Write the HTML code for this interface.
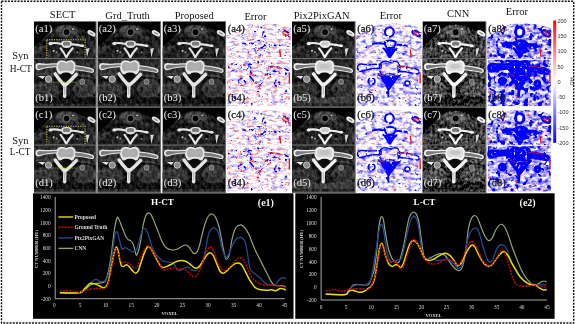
<!DOCTYPE html>
<html><head><meta charset="utf-8"><title>Synthetic CT comparison</title>
<style>
html,body{margin:0;padding:0;background:#fff;width:575px;height:324px;overflow:hidden}
svg{display:block}
svg{font-family:"Liberation Serif","Times New Roman",serif}
</style></head><body>
<svg width="575" height="324" viewBox="0 0 575 324">
<rect width="575" height="324" fill="#fff"/>

<defs>
<linearGradient id="cbar" x1="0" y1="0" x2="0" y2="1">
<stop offset="0" stop-color="#ff0000"/><stop offset="0.5" stop-color="#ffffff"/><stop offset="1" stop-color="#0000ff"/>
</linearGradient>
</defs>
<rect x="1.5" y="1.3" width="572.2" height="321.7" fill="none" stroke="#111" stroke-width="1.4" stroke-dasharray="2 1.2"/>
<text x="62.7" y="18.4" font-size="10.5" text-anchor="middle" fill="#111">SECT</text>
<text x="127.6" y="18.6" font-size="10.5" text-anchor="middle" fill="#111">Grd_Truth</text>
<text x="194.2" y="18.6" font-size="10.5" text-anchor="middle" fill="#111">Proposed</text>
<text x="255.5" y="19.6" font-size="10.5" text-anchor="middle" fill="#111">Error</text>
<text x="321.7" y="18.7" font-size="10.5" text-anchor="middle" fill="#111">Pix2PixGAN</text>
<text x="390.8" y="18.7" font-size="10.5" text-anchor="middle" fill="#111">Error</text>
<text x="458.2" y="17.1" font-size="10.5" text-anchor="middle" fill="#111">CNN</text>
<text x="516.8" y="15.4" font-size="10.5" text-anchor="middle" fill="#111">Error</text>
<text x="20.4" y="59.2" font-size="10.5" text-anchor="middle" fill="#111">Syn</text>
<text x="20.7" y="71.5" font-size="10.5" text-anchor="middle" fill="#111" textLength="22" lengthAdjust="spacingAndGlyphs">H-CT</text>
<text x="20.4" y="143.5" font-size="10.5" text-anchor="middle" fill="#111">Syn</text>
<text x="20.1" y="155.3" font-size="10.5" text-anchor="middle" fill="#111" textLength="20.8" lengthAdjust="spacingAndGlyphs">L-CT</text>

<filter id="grain1" x="0" y="0" width="1" height="1" color-interpolation-filters="sRGB">
<feTurbulence type="fractalNoise" baseFrequency="0.35 0.25" numOctaves="3" seed="3" result="t"/>
<feColorMatrix in="t" type="matrix" values="1 0 0 0 0 1 0 0 0 0 1 0 0 0 0 0 0 0 0 1" result="g"/>
<feComposite in="SourceGraphic" in2="g" operator="arithmetic" k1="0" k2="1" k3="0.4" k4="-0.2" result="c"/>
<feComposite in="c" in2="SourceGraphic" operator="in"/>
</filter>
<filter id="grain2" x="0" y="0" width="1" height="1" color-interpolation-filters="sRGB">
<feTurbulence type="fractalNoise" baseFrequency="0.4 0.3" numOctaves="3" seed="8" result="t"/>
<feColorMatrix in="t" type="matrix" values="1 0 0 0 0 1 0 0 0 0 1 0 0 0 0 0 0 0 0 1" result="g"/>
<feComposite in="SourceGraphic" in2="g" operator="arithmetic" k1="0" k2="1" k3="0.9" k4="-0.45" result="c"/>
<feComposite in="c" in2="SourceGraphic" operator="in"/>
</filter>
<filter id="epale" x="0" y="0" width="1" height="1" color-interpolation-filters="sRGB">
<feTurbulence type="fractalNoise" baseFrequency="0.4" numOctaves="2" seed="5" result="t"/>
<feColorMatrix in="t" type="matrix" values="1.5 0 0 0 0.25  1.5 0 0 0 0.25  0 0 0 0 1  0 0 0 0 1" result="bl"/>
<feColorMatrix in="t" type="matrix" values="0 0 0 0 1  0 -1.5 0 0 1.75  0 -1.5 0 0 1.75  0 0 0 0 1" result="rd"/>
<feBlend in="bl" in2="rd" mode="multiply" result="m"/>
<feComposite in="m" in2="SourceGraphic" operator="in"/>
</filter>
<filter id="epale2" x="0" y="0" width="1" height="1" color-interpolation-filters="sRGB">
<feTurbulence type="fractalNoise" baseFrequency="0.35" numOctaves="2" seed="9" result="t"/>
<feColorMatrix in="t" type="matrix" values="1.5 0 0 0 0.25  1.5 0 0 0 0.25  0 0 0 0 1  0 0 0 0 1" result="bl"/>
<feColorMatrix in="t" type="matrix" values="0 0 0 0 1  0 -1.5 0 0 1.75  0 -1.5 0 0 1.75  0 0 0 0 1" result="rd"/>
<feBlend in="bl" in2="rd" mode="multiply" result="m"/>
<feComposite in="m" in2="SourceGraphic" operator="in"/>
</filter>

<filter id="p4" x="0" y="0" width="1" height="1" color-interpolation-filters="sRGB">
<feTurbulence type="fractalNoise" baseFrequency="0.2 0.4" numOctaves="2" seed="5" result="t"/>
<feColorMatrix in="t" type="matrix" values="1.2 0 0 0 0.4  1.2 0 0 0 0.4  0 0 0 0 1  0 0 0 0 1" result="bl"/>
<feColorMatrix in="t" type="matrix" values="0 0 0 0 1  0 -1.4 0 0 1.7  0 -1.4 0 0 1.7  0 0 0 0 1" result="rd"/>
<feBlend in="bl" in2="rd" mode="multiply" result="m"/>
<feComposite in="m" in2="SourceGraphic" operator="in"/>
</filter>
<filter id="pz4" x="0" y="0" width="1" height="1" color-interpolation-filters="sRGB">
<feTurbulence type="fractalNoise" baseFrequency="0.18 0.36" numOctaves="2" seed="9" result="t"/>
<feColorMatrix in="t" type="matrix" values="1.2 0 0 0 0.4  1.2 0 0 0 0.4  0 0 0 0 1  0 0 0 0 1" result="bl"/>
<feColorMatrix in="t" type="matrix" values="0 0 0 0 1  0 -1.4 0 0 1.7  0 -1.4 0 0 1.7  0 0 0 0 1" result="rd"/>
<feBlend in="bl" in2="rd" mode="multiply" result="m"/>
<feComposite in="m" in2="SourceGraphic" operator="in"/>
</filter>
<filter id="p6" x="0" y="0" width="1" height="1" color-interpolation-filters="sRGB">
<feTurbulence type="fractalNoise" baseFrequency="0.2 0.3" numOctaves="2" seed="6" result="t"/>
<feColorMatrix in="t" type="matrix" values="1.9 0 0 0 -0.019999999999999962  1.9 0 0 0 -0.019999999999999962  0 0 0 0 1  0 0 0 0 1" result="bl"/>
<feColorMatrix in="t" type="matrix" values="0 0 0 0 1  0 -0.9 0 0 1.45  0 -0.9 0 0 1.45  0 0 0 0 1" result="rd"/>
<feBlend in="bl" in2="rd" mode="multiply" result="m"/>
<feComposite in="m" in2="SourceGraphic" operator="in"/>
</filter>
<filter id="pz6" x="0" y="0" width="1" height="1" color-interpolation-filters="sRGB">
<feTurbulence type="fractalNoise" baseFrequency="0.18 0.28" numOctaves="2" seed="8" result="t"/>
<feColorMatrix in="t" type="matrix" values="1.9 0 0 0 -0.03999999999999995  1.9 0 0 0 -0.03999999999999995  0 0 0 0 1  0 0 0 0 1" result="bl"/>
<feColorMatrix in="t" type="matrix" values="0 0 0 0 1  0 -0.8 0 0 1.4  0 -0.8 0 0 1.4  0 0 0 0 1" result="rd"/>
<feBlend in="bl" in2="rd" mode="multiply" result="m"/>
<feComposite in="m" in2="SourceGraphic" operator="in"/>
</filter>
<filter id="p8" x="0" y="0" width="1" height="1" color-interpolation-filters="sRGB">
<feTurbulence type="fractalNoise" baseFrequency="0.2 0.3" numOctaves="2" seed="7" result="t"/>
<feColorMatrix in="t" type="matrix" values="1.8 0 0 0 -0.14  1.8 0 0 0 -0.14  0 0 0 0 1  0 0 0 0 1" result="bl"/>
<feColorMatrix in="t" type="matrix" values="0 0 0 0 1  0 -0.8 0 0 1.4  0 -0.8 0 0 1.4  0 0 0 0 1" result="rd"/>
<feBlend in="bl" in2="rd" mode="multiply" result="m"/>
<feComposite in="m" in2="SourceGraphic" operator="in"/>
</filter>
<filter id="pz8" x="0" y="0" width="1" height="1" color-interpolation-filters="sRGB">
<feTurbulence type="fractalNoise" baseFrequency="0.18 0.28" numOctaves="2" seed="10" result="t"/>
<feColorMatrix in="t" type="matrix" values="1.8 0 0 0 -0.14  1.8 0 0 0 -0.14  0 0 0 0 1  0 0 0 0 1" result="bl"/>
<feColorMatrix in="t" type="matrix" values="0 0 0 0 1  0 -0.8 0 0 1.4  0 -0.8 0 0 1.4  0 0 0 0 1" result="rd"/>
<feBlend in="bl" in2="rd" mode="multiply" result="m"/>
<feComposite in="m" in2="SourceGraphic" operator="in"/>
</filter>
<filter id="b4" x="-0.1" y="-0.1" width="1.2" height="1.2" color-interpolation-filters="sRGB">
<feTurbulence type="fractalNoise" baseFrequency="0.3" numOctaves="2" seed="11" result="t"/>
<feColorMatrix in="t" type="matrix" values="0 0 0 0 0  0 0 0 0 0  0 0 0 0 1  8 0 0 0 -5.68"/>
<feComposite in2="SourceGraphic" operator="in"/>
</filter>
<filter id="r4" x="-0.1" y="-0.1" width="1.2" height="1.2" color-interpolation-filters="sRGB">
<feTurbulence type="fractalNoise" baseFrequency="0.3" numOctaves="2" seed="12" result="t"/>
<feColorMatrix in="t" type="matrix" values="0 0 0 0 1  0 0 0 0 0.1  0 0 0 0 0.1  8 0 0 0 -6.0"/>
<feComposite in2="SourceGraphic" operator="in"/>
</filter>
<filter id="a4" x="-0.1" y="-0.1" width="1.2" height="1.2" color-interpolation-filters="sRGB">
<feTurbulence type="fractalNoise" baseFrequency="0.3" numOctaves="2" seed="14" result="t"/>
<feColorMatrix in="t" type="matrix" values="0 0 0 0 0  0 0 0 0 0  0 0 0 0 1  8 0 0 0 -4.0"/>
<feComposite in2="SourceGraphic" operator="in"/>
</filter>
<filter id="ra4" x="-0.1" y="-0.1" width="1.2" height="1.2" color-interpolation-filters="sRGB">
<feTurbulence type="fractalNoise" baseFrequency="0.3" numOctaves="2" seed="15" result="t"/>
<feColorMatrix in="t" type="matrix" values="0 0 0 0 1  0 0 0 0 0.1  0 0 0 0 0.1  8 0 0 0 -4.96"/>
<feComposite in2="SourceGraphic" operator="in"/>
</filter>
<filter id="b6" x="-0.1" y="-0.1" width="1.2" height="1.2" color-interpolation-filters="sRGB">
<feTurbulence type="fractalNoise" baseFrequency="0.25" numOctaves="2" seed="21" result="t"/>
<feColorMatrix in="t" type="matrix" values="0 0 0 0 0  0 0 0 0 0  0 0 0 0 1  8 0 0 0 -5.6"/>
<feComposite in2="SourceGraphic" operator="in"/>
</filter>
<filter id="r6" x="-0.1" y="-0.1" width="1.2" height="1.2" color-interpolation-filters="sRGB">
<feTurbulence type="fractalNoise" baseFrequency="0.3" numOctaves="2" seed="22" result="t"/>
<feColorMatrix in="t" type="matrix" values="0 0 0 0 1  0 0 0 0 0.1  0 0 0 0 0.1  8 0 0 0 -6.24"/>
<feComposite in2="SourceGraphic" operator="in"/>
</filter>
<filter id="a6" x="-0.1" y="-0.1" width="1.2" height="1.2" color-interpolation-filters="sRGB">
<feTurbulence type="fractalNoise" baseFrequency="0.3" numOctaves="2" seed="24" result="t"/>
<feColorMatrix in="t" type="matrix" values="0 0 0 0 0  0 0 0 0 0  0 0 0 0 1  8 0 0 0 -2.4"/>
<feComposite in2="SourceGraphic" operator="in"/>
</filter>
<filter id="f6" x="-0.1" y="-0.1" width="1.2" height="1.2" color-interpolation-filters="sRGB">
<feTurbulence type="fractalNoise" baseFrequency="0.3" numOctaves="2" seed="25" result="t"/>
<feColorMatrix in="t" type="matrix" values="0 0 0 0 0  0 0 0 0 0  0 0 0 0 1  8 0 0 0 -1.76"/>
<feComposite in2="SourceGraphic" operator="in"/>
</filter>
<filter id="b8" x="-0.1" y="-0.1" width="1.2" height="1.2" color-interpolation-filters="sRGB">
<feTurbulence type="fractalNoise" baseFrequency="0.22" numOctaves="2" seed="31" result="t"/>
<feColorMatrix in="t" type="matrix" values="0 0 0 0 0  0 0 0 0 0  0 0 0 0 1  8 0 0 0 -4.32"/>
<feComposite in2="SourceGraphic" operator="in"/>
</filter>
<filter id="r8" x="-0.1" y="-0.1" width="1.2" height="1.2" color-interpolation-filters="sRGB">
<feTurbulence type="fractalNoise" baseFrequency="0.35" numOctaves="2" seed="32" result="t"/>
<feColorMatrix in="t" type="matrix" values="0 0 0 0 1  0 0 0 0 0.1  0 0 0 0 0.1  8 0 0 0 -5.76"/>
<feComposite in2="SourceGraphic" operator="in"/>
</filter>
<filter id="a8" x="-0.1" y="-0.1" width="1.2" height="1.2" color-interpolation-filters="sRGB">
<feTurbulence type="fractalNoise" baseFrequency="0.3" numOctaves="2" seed="34" result="t"/>
<feColorMatrix in="t" type="matrix" values="0 0 0 0 0  0 0 0 0 0  0 0 0 0 1  8 0 0 0 -1.6"/>
<feComposite in2="SourceGraphic" operator="in"/>
</filter>
<filter id="f8" x="-0.1" y="-0.1" width="1.2" height="1.2" color-interpolation-filters="sRGB">
<feTurbulence type="fractalNoise" baseFrequency="0.3" numOctaves="2" seed="35" result="t"/>
<feColorMatrix in="t" type="matrix" values="0 0 0 0 0  0 0 0 0 0  0 0 0 0 1  8 0 0 0 -2.4"/>
<feComposite in2="SourceGraphic" operator="in"/>
</filter>
<filter id="bz4" x="-0.1" y="-0.1" width="1.2" height="1.2" color-interpolation-filters="sRGB">
<feTurbulence type="fractalNoise" baseFrequency="0.3" numOctaves="2" seed="13" result="t"/>
<feColorMatrix in="t" type="matrix" values="0 0 0 0 0  0 0 0 0 0  0 0 0 0 1  8 0 0 0 -5.68"/>
<feComposite in2="SourceGraphic" operator="in"/>
</filter>
<filter id="bz6" x="-0.1" y="-0.1" width="1.2" height="1.2" color-interpolation-filters="sRGB">
<feTurbulence type="fractalNoise" baseFrequency="0.25" numOctaves="2" seed="23" result="t"/>
<feColorMatrix in="t" type="matrix" values="0 0 0 0 0  0 0 0 0 0  0 0 0 0 1  8 0 0 0 -5.44"/>
<feComposite in2="SourceGraphic" operator="in"/>
</filter>
<filter id="bz8" x="-0.1" y="-0.1" width="1.2" height="1.2" color-interpolation-filters="sRGB">
<feTurbulence type="fractalNoise" baseFrequency="0.22" numOctaves="2" seed="33" result="t"/>
<feColorMatrix in="t" type="matrix" values="0 0 0 0 0  0 0 0 0 0  0 0 0 0 1  8 0 0 0 -4.0"/>
<feComposite in2="SourceGraphic" operator="in"/>
</filter>
<filter id="bzd8" x="-0.1" y="-0.1" width="1.2" height="1.2" color-interpolation-filters="sRGB">
<feTurbulence type="fractalNoise" baseFrequency="0.22" numOctaves="2" seed="36" result="t"/>
<feColorMatrix in="t" type="matrix" values="0 0 0 0 0  0 0 0 0 0  0 0 0 0 1  8 0 0 0 -4.48"/>
<feComposite in2="SourceGraphic" operator="in"/>
</filter>
<svg x="34" y="21.3" width="62.5" height="37.7" viewBox="0 0 63 37.5" preserveAspectRatio="none" overflow="hidden">
<rect width="63" height="37.5" fill="#030303"/>
<g filter="url(#grain1)">
<path d="M0,25.5 C3,22.5 6,19.5 8.5,17.5 C11,15.5 13.5,12.5 15,10.5 C17,7.5 20.5,5 26,3.7 C29.5,2.9 36,2.8 40.5,4 C45,5.3 49.5,8 53,10 C56.5,12 60.5,14 63,15.5 L63,37.5 L0,37.5 Z" fill="#1c1c1c"/>
<path d="M0,29 L8,24 L12.5,25 L4,32 L0,34Z" fill="#363636"/>
<ellipse cx="32.5" cy="10" rx="11" ry="6.5" fill="#363636"/>
<ellipse cx="26.5" cy="8" rx="4" ry="3" fill="#4a4a4a"/>
<ellipse cx="40" cy="9.5" rx="4" ry="3.2" fill="#4a4a4a"/>
<ellipse cx="46.5" cy="17" rx="5" ry="3" fill="#363636" opacity="0.8"/>
<ellipse cx="20" cy="34" rx="6" ry="3" fill="#363636" opacity="0.7"/>
<ellipse cx="45" cy="33.5" rx="6" ry="3.5" fill="#363636" opacity="0.7"/>
<ellipse cx="59" cy="28" rx="4" ry="9" fill="#363636" opacity="0.6"/>
<ellipse cx="6" cy="32" rx="6" ry="4" fill="#363636" opacity="0.5"/>
</g>
<circle cx="32.8" cy="10.8" r="4" fill="#6a6a6a"/>
<circle cx="32.8" cy="10.8" r="2.8" fill="#000"/>
<circle cx="39.2" cy="7.8" r="0.8" fill="#ddd"/>
<ellipse cx="58" cy="12" rx="4.6" ry="2.3" transform="rotate(30 58 12)" fill="#e4e4e4"/>
<ellipse cx="58" cy="12" rx="2.4" ry="0.8" transform="rotate(30 58 12)" fill="#8a8a8a"/>
<ellipse cx="32.8" cy="27.4" rx="3.4" ry="2" fill="#0a0a0a"/>
<path d="M27.5,22 C27.3,19.9 30,19.2 32.8,19.2 C35.6,19.2 38.3,19.9 38.1,22 C37.9,24.8 35.9,26.6 32.8,26.6 C29.7,26.6 27.7,24.8 27.5,22Z" fill="#e4e4e4"/>
<ellipse cx="32.8" cy="22.4" rx="3.7" ry="2.3" fill="#7a7a7a"/>
<path d="M30,25.4 Q32.8,23 35.6,25.4" stroke="#e4e4e4" stroke-width="0.9" fill="none"/>
<path d="M16.2,22 C19.5,21.2 24,21.6 27.8,22.6" stroke="#e4e4e4" stroke-width="2.1" fill="none" stroke-linecap="round"/>
<ellipse cx="16.6" cy="22.2" rx="2" ry="1.5" fill="#e4e4e4"/>
<path d="M37.8,23 C41.5,22.8 45.5,23.5 49,24.6" stroke="#e4e4e4" stroke-width="2.1" fill="none" stroke-linecap="round"/>
<ellipse cx="48.8" cy="24.4" rx="1.9" ry="1.3" fill="#e4e4e4"/>
<path d="M26.8,27 C28.8,29.5 31,32.5 32.3,35.5 M39,26.8 C36.6,29.5 34,32.5 32.9,35.5" stroke="#e4e4e4" stroke-width="2.1" fill="none" stroke-linecap="round"/>
<path d="M32.6,34.5 L32.6,37.6" stroke="#e4e4e4" stroke-width="1.4"/>
<circle cx="19.8" cy="29.4" r="1.1" fill="#c4c4c4"/>
<circle cx="22.8" cy="30.8" r="1.1" fill="#8a8a8a"/>
<circle cx="43.8" cy="30.8" r="0.9" fill="#8a8a8a"/>
<path d="M52.4,27.2 L56,26.6 L53.4,36Z" fill="#d8d8d8"/>
<rect x="12.9" y="18.4" width="38.6" height="18.6" fill="none" stroke="#1a1a50" stroke-width="1.1"/>
<rect x="12.9" y="18.4" width="38.6" height="18.6" fill="none" stroke="#e8dc00" stroke-width="1.1" stroke-dasharray="1.1 1.3"/>
</svg>
<path d="M96.1,21.3V59" fill="none" stroke="#8a8a8a" stroke-width="0.8"/>
<path d="M34,58.45H96.5" fill="none" stroke="#6a6a6a" stroke-width="1.1"/>
<text x="35.2" y="31.7" font-size="10.6" fill="#eee">(a1)</text>
<svg x="97.5" y="21.3" width="63.5" height="37.7" viewBox="0 0 63 37.5" preserveAspectRatio="none" overflow="hidden">
<rect width="63" height="37.5" fill="#030303"/>
<g filter="url(#grain1)">
<path d="M0,25.5 C3,22.5 6,19.5 8.5,17.5 C11,15.5 13.5,12.5 15,10.5 C17,7.5 20.5,5 26,3.7 C29.5,2.9 36,2.8 40.5,4 C45,5.3 49.5,8 53,10 C56.5,12 60.5,14 63,15.5 L63,37.5 L0,37.5 Z" fill="#1a1a1a"/>
<path d="M0,29 L8,24 L12.5,25 L4,32 L0,34Z" fill="#333333"/>
<ellipse cx="32.5" cy="10" rx="11" ry="6.5" fill="#333333"/>
<ellipse cx="26.5" cy="8" rx="4" ry="3" fill="#4a4a4a"/>
<ellipse cx="40" cy="9.5" rx="4" ry="3.2" fill="#4a4a4a"/>
<ellipse cx="46.5" cy="17" rx="5" ry="3" fill="#333333" opacity="0.8"/>
<ellipse cx="20" cy="34" rx="6" ry="3" fill="#333333" opacity="0.7"/>
<ellipse cx="45" cy="33.5" rx="6" ry="3.5" fill="#333333" opacity="0.7"/>
<ellipse cx="59" cy="28" rx="4" ry="9" fill="#333333" opacity="0.6"/>
<ellipse cx="6" cy="32" rx="6" ry="4" fill="#333333" opacity="0.5"/>
</g>
<circle cx="32.8" cy="10.8" r="4" fill="#6a6a6a"/>
<circle cx="32.8" cy="10.8" r="2.8" fill="#000"/>
<circle cx="39.2" cy="7.8" r="0.8" fill="#ddd"/>
<ellipse cx="58" cy="12" rx="4.6" ry="2.3" transform="rotate(30 58 12)" fill="#e4e4e4"/>
<ellipse cx="58" cy="12" rx="2.4" ry="0.8" transform="rotate(30 58 12)" fill="#8a8a8a"/>
<ellipse cx="32.8" cy="27.4" rx="3.4" ry="2" fill="#0a0a0a"/>
<path d="M27.5,22 C27.3,19.9 30,19.2 32.8,19.2 C35.6,19.2 38.3,19.9 38.1,22 C37.9,24.8 35.9,26.6 32.8,26.6 C29.7,26.6 27.7,24.8 27.5,22Z" fill="#e4e4e4"/>
<ellipse cx="32.8" cy="22.4" rx="3.7" ry="2.3" fill="#7a7a7a"/>
<path d="M30,25.4 Q32.8,23 35.6,25.4" stroke="#e4e4e4" stroke-width="0.9" fill="none"/>
<path d="M16.2,22 C19.5,21.2 24,21.6 27.8,22.6" stroke="#e4e4e4" stroke-width="2.1" fill="none" stroke-linecap="round"/>
<ellipse cx="16.6" cy="22.2" rx="2" ry="1.5" fill="#e4e4e4"/>
<path d="M37.8,23 C41.5,22.8 45.5,23.5 49,24.6" stroke="#e4e4e4" stroke-width="2.1" fill="none" stroke-linecap="round"/>
<ellipse cx="48.8" cy="24.4" rx="1.9" ry="1.3" fill="#e4e4e4"/>
<path d="M26.8,27 C28.8,29.5 31,32.5 32.3,35.5 M39,26.8 C36.6,29.5 34,32.5 32.9,35.5" stroke="#e4e4e4" stroke-width="2.1" fill="none" stroke-linecap="round"/>
<path d="M32.6,34.5 L32.6,37.6" stroke="#e4e4e4" stroke-width="1.4"/>
<circle cx="19.8" cy="29.4" r="1.1" fill="#c4c4c4"/>
<circle cx="22.8" cy="30.8" r="1.1" fill="#8a8a8a"/>
<circle cx="43.8" cy="30.8" r="0.9" fill="#8a8a8a"/>
<path d="M52.4,27.2 L56,26.6 L53.4,36Z" fill="#d8d8d8"/>
</svg>
<path d="M160.6,21.3V59" fill="none" stroke="#8a8a8a" stroke-width="0.8"/>
<path d="M97.5,58.45H161" fill="none" stroke="#6a6a6a" stroke-width="1.1"/>
<text x="98.7" y="31.7" font-size="10.6" fill="#eee">(a2)</text>
<svg x="162.5" y="21.3" width="63.5" height="37.7" viewBox="0 0 63 37.5" preserveAspectRatio="none" overflow="hidden">
<rect width="63" height="37.5" fill="#030303"/>
<g filter="url(#grain1)">
<path d="M0,25.5 C3,22.5 6,19.5 8.5,17.5 C11,15.5 13.5,12.5 15,10.5 C17,7.5 20.5,5 26,3.7 C29.5,2.9 36,2.8 40.5,4 C45,5.3 49.5,8 53,10 C56.5,12 60.5,14 63,15.5 L63,37.5 L0,37.5 Z" fill="#1b1b1b"/>
<path d="M0,29 L8,24 L12.5,25 L4,32 L0,34Z" fill="#343434"/>
<ellipse cx="32.5" cy="10" rx="11" ry="6.5" fill="#343434"/>
<ellipse cx="26.5" cy="8" rx="4" ry="3" fill="#4a4a4a"/>
<ellipse cx="40" cy="9.5" rx="4" ry="3.2" fill="#4a4a4a"/>
<ellipse cx="46.5" cy="17" rx="5" ry="3" fill="#343434" opacity="0.8"/>
<ellipse cx="20" cy="34" rx="6" ry="3" fill="#343434" opacity="0.7"/>
<ellipse cx="45" cy="33.5" rx="6" ry="3.5" fill="#343434" opacity="0.7"/>
<ellipse cx="59" cy="28" rx="4" ry="9" fill="#343434" opacity="0.6"/>
<ellipse cx="6" cy="32" rx="6" ry="4" fill="#343434" opacity="0.5"/>
</g>
<circle cx="32.8" cy="10.8" r="4" fill="#6a6a6a"/>
<circle cx="32.8" cy="10.8" r="2.8" fill="#000"/>
<circle cx="39.2" cy="7.8" r="0.8" fill="#ddd"/>
<ellipse cx="58" cy="12" rx="4.6" ry="2.3" transform="rotate(30 58 12)" fill="#e4e4e4"/>
<ellipse cx="58" cy="12" rx="2.4" ry="0.8" transform="rotate(30 58 12)" fill="#8a8a8a"/>
<ellipse cx="32.8" cy="27.4" rx="3.4" ry="2" fill="#0a0a0a"/>
<path d="M27.5,22 C27.3,19.9 30,19.2 32.8,19.2 C35.6,19.2 38.3,19.9 38.1,22 C37.9,24.8 35.9,26.6 32.8,26.6 C29.7,26.6 27.7,24.8 27.5,22Z" fill="#e4e4e4"/>
<ellipse cx="32.8" cy="22.4" rx="3.7" ry="2.3" fill="#7a7a7a"/>
<path d="M30,25.4 Q32.8,23 35.6,25.4" stroke="#e4e4e4" stroke-width="0.9" fill="none"/>
<path d="M16.2,22 C19.5,21.2 24,21.6 27.8,22.6" stroke="#e4e4e4" stroke-width="2.1" fill="none" stroke-linecap="round"/>
<ellipse cx="16.6" cy="22.2" rx="2" ry="1.5" fill="#e4e4e4"/>
<path d="M37.8,23 C41.5,22.8 45.5,23.5 49,24.6" stroke="#e4e4e4" stroke-width="2.1" fill="none" stroke-linecap="round"/>
<ellipse cx="48.8" cy="24.4" rx="1.9" ry="1.3" fill="#e4e4e4"/>
<path d="M26.8,27 C28.8,29.5 31,32.5 32.3,35.5 M39,26.8 C36.6,29.5 34,32.5 32.9,35.5" stroke="#e4e4e4" stroke-width="2.1" fill="none" stroke-linecap="round"/>
<path d="M32.6,34.5 L32.6,37.6" stroke="#e4e4e4" stroke-width="1.4"/>
<circle cx="19.8" cy="29.4" r="1.1" fill="#c4c4c4"/>
<circle cx="22.8" cy="30.8" r="1.1" fill="#8a8a8a"/>
<circle cx="43.8" cy="30.8" r="0.9" fill="#8a8a8a"/>
<path d="M52.4,27.2 L56,26.6 L53.4,36Z" fill="#d8d8d8"/>
</svg>
<path d="M225.6,21.3V59" fill="none" stroke="#8a8a8a" stroke-width="0.8"/>
<path d="M162.5,58.45H226" fill="none" stroke="#6a6a6a" stroke-width="1.1"/>
<text x="163.7" y="31.7" font-size="10.6" fill="#eee">(a3)</text>
<svg x="226.5" y="21.3" width="64.5" height="37.7" viewBox="0 0 63 37.5" preserveAspectRatio="none" overflow="hidden">
<path d="M0,14 C4,12.5 10,11 14,8 C16,5.5 18,4 22,3.2 C30,2 40,2 48,3 C54,4 59,5.5 63,7 L63,37.5 L0,37.5Z" fill="#f2ecf2" filter="url(#p4)"/>
<path d="M0,14 C4,12.5 10,11 14,8 C16,5.5 18,4 22,3.2 C30,2 40,2 48,3 C54,4 59,5.5 63,7 L63,37.5 L0,37.5Z" fill="#000" filter="url(#b4)"/>
<path d="M0,14 C4,12.5 10,11 14,8 C16,5.5 18,4 22,3.2 C30,2 40,2 48,3 C54,4 59,5.5 63,7 L63,37.5 L0,37.5Z" fill="#000" filter="url(#r4)"/>
<g fill="none" stroke="#000" stroke-width="1.9" stroke-linecap="round" filter="url(#ra4)" transform="translate(1,1.2)"><ellipse cx="32" cy="10.6" rx="4.2" ry="4.8"/><path d="M27.5,22 C27.3,19.9 30,19.2 32.8,19.2 C35.6,19.2 38.3,19.9 38.1,22 C37.9,24.8 35.9,26.6 32.8,26.6 C29.7,26.6 27.7,24.8 27.5,22Z"/><path d="M16.2,22.4 C19.5,21.6 24,21.8 27.8,22.6 M37.8,23.3 C41.5,23.1 45.5,23.5 48.6,24.2"/><path d="M26.2,27 C28.5,29.5 30.8,32.5 31.9,35.5 M38.5,27 C36,29.5 33.2,32.5 31.9,35.5"/><ellipse cx="57.7" cy="12" rx="4.1" ry="2.1" transform="rotate(30 57.7 12)"/></g>
<g fill="none" stroke="#000" stroke-width="1.9" stroke-linecap="round" filter="url(#a4)"><ellipse cx="32" cy="10.6" rx="4.2" ry="4.8"/><path d="M27.5,22 C27.3,19.9 30,19.2 32.8,19.2 C35.6,19.2 38.3,19.9 38.1,22 C37.9,24.8 35.9,26.6 32.8,26.6 C29.7,26.6 27.7,24.8 27.5,22Z"/><path d="M16.2,22.4 C19.5,21.6 24,21.8 27.8,22.6 M37.8,23.3 C41.5,23.1 45.5,23.5 48.6,24.2"/><path d="M26.2,27 C28.5,29.5 30.8,32.5 31.9,35.5 M38.5,27 C36,29.5 33.2,32.5 31.9,35.5"/><ellipse cx="57.7" cy="12" rx="4.1" ry="2.1" transform="rotate(30 57.7 12)"/></g>
<ellipse cx="32" cy="10.6" rx="2.6" ry="3.2" fill="#fff"/>
<path d="M52,28 L52.8,35.5" stroke="#f01010" stroke-width="1.3"/>
<ellipse cx="57.7" cy="12" rx="3.2" ry="1.4" transform="rotate(30 57.7 12)" fill="none" stroke="#e81010" stroke-width="0.9"/>
</svg>
<text x="227.7" y="31.7" font-size="10.6" fill="#111" stroke="#111" stroke-width="0.25">(a4)</text>
<svg x="292" y="21.3" width="63.5" height="37.7" viewBox="0 0 63 37.5" preserveAspectRatio="none" overflow="hidden">
<rect width="63" height="37.5" fill="#030303"/>
<g filter="url(#grain1)">
<path d="M0,25.5 C3,22.5 6,19.5 8.5,17.5 C11,15.5 13.5,12.5 15,10.5 C17,7.5 20.5,5 26,3.7 C29.5,2.9 36,2.8 40.5,4 C45,5.3 49.5,8 53,10 C56.5,12 60.5,14 63,15.5 L63,37.5 L0,37.5 Z" fill="#1e1e1e"/>
<path d="M0,29 L8,24 L12.5,25 L4,32 L0,34Z" fill="#3a3a3a"/>
<ellipse cx="32.5" cy="10" rx="11" ry="6.5" fill="#3a3a3a"/>
<ellipse cx="26.5" cy="8" rx="4" ry="3" fill="#4a4a4a"/>
<ellipse cx="40" cy="9.5" rx="4" ry="3.2" fill="#4a4a4a"/>
<ellipse cx="46.5" cy="17" rx="5" ry="3" fill="#3a3a3a" opacity="0.8"/>
<ellipse cx="20" cy="34" rx="6" ry="3" fill="#3a3a3a" opacity="0.7"/>
<ellipse cx="45" cy="33.5" rx="6" ry="3.5" fill="#3a3a3a" opacity="0.7"/>
<ellipse cx="59" cy="28" rx="4" ry="9" fill="#3a3a3a" opacity="0.6"/>
<ellipse cx="6" cy="32" rx="6" ry="4" fill="#3a3a3a" opacity="0.5"/>
</g>
<circle cx="32.8" cy="10.8" r="4" fill="#6a6a6a"/>
<circle cx="32.8" cy="10.8" r="2.8" fill="#000"/>
<circle cx="39.2" cy="7.8" r="0.8" fill="#ddd"/>
<ellipse cx="58" cy="12" rx="4.6" ry="2.3" transform="rotate(30 58 12)" fill="#f0f0f0"/>
<ellipse cx="58" cy="12" rx="2.4" ry="0.8" transform="rotate(30 58 12)" fill="#8a8a8a"/>
<ellipse cx="32.8" cy="27.4" rx="3.4" ry="2" fill="#0a0a0a"/>
<path d="M27.5,22 C27.3,19.9 30,19.2 32.8,19.2 C35.6,19.2 38.3,19.9 38.1,22 C37.9,24.8 35.9,26.6 32.8,26.6 C29.7,26.6 27.7,24.8 27.5,22Z" fill="#f0f0f0"/>
<ellipse cx="32.8" cy="22.4" rx="3.7" ry="2.3" fill="#c8c8c8"/>
<path d="M30,25.4 Q32.8,23 35.6,25.4" stroke="#f0f0f0" stroke-width="0.9" fill="none"/>
<path d="M16.2,22 C19.5,21.2 24,21.6 27.8,22.6" stroke="#f0f0f0" stroke-width="2.1" fill="none" stroke-linecap="round"/>
<ellipse cx="16.6" cy="22.2" rx="2" ry="1.5" fill="#f0f0f0"/>
<path d="M37.8,23 C41.5,22.8 45.5,23.5 49,24.6" stroke="#f0f0f0" stroke-width="2.1" fill="none" stroke-linecap="round"/>
<ellipse cx="48.8" cy="24.4" rx="1.9" ry="1.3" fill="#f0f0f0"/>
<path d="M26.8,27 C28.8,29.5 31,32.5 32.3,35.5 M39,26.8 C36.6,29.5 34,32.5 32.9,35.5" stroke="#f0f0f0" stroke-width="2.1" fill="none" stroke-linecap="round"/>
<path d="M32.6,34.5 L32.6,37.6" stroke="#f0f0f0" stroke-width="1.4"/>
<circle cx="19.8" cy="29.4" r="1.1" fill="#c4c4c4"/>
<circle cx="22.8" cy="30.8" r="1.1" fill="#8a8a8a"/>
<circle cx="43.8" cy="30.8" r="0.9" fill="#8a8a8a"/>
<path d="M52.4,27.2 L56,26.6 L53.4,36Z" fill="#d8d8d8"/>
</svg>
<path d="M355.1,21.3V59" fill="none" stroke="#8a8a8a" stroke-width="0.8"/>
<path d="M292,58.45H355.5" fill="none" stroke="#6a6a6a" stroke-width="1.1"/>
<text x="293.2" y="31.7" font-size="10.6" fill="#eee">(a5)</text>
<svg x="356" y="21.3" width="65.8" height="37.7" viewBox="0 0 63 37.5" preserveAspectRatio="none" overflow="hidden">
<path d="M0,14 C4,12.5 10,11 14,8 C16,5.5 18,4 22,3.2 C30,2 40,2 48,3 C54,4 59,5.5 63,7 L63,37.5 L0,37.5Z" fill="#f2ecf2" filter="url(#p6)"/>
<path d="M0,14 C4,12.5 10,11 14,8 C16,5.5 18,4 22,3.2 C30,2 40,2 48,3 C54,4 59,5.5 63,7 L63,37.5 L0,37.5Z" fill="#000" filter="url(#b6)"/>
<path d="M0,14 C4,12.5 10,11 14,8 C16,5.5 18,4 22,3.2 C30,2 40,2 48,3 C54,4 59,5.5 63,7 L63,37.5 L0,37.5Z" fill="#000" filter="url(#r6)"/>
<g fill="none" stroke="#000" stroke-width="2.0" stroke-linecap="round" filter="url(#a6)"><ellipse cx="32" cy="10.6" rx="4.2" ry="4.8"/><path d="M27.5,22 C27.3,19.9 30,19.2 32.8,19.2 C35.6,19.2 38.3,19.9 38.1,22 C37.9,24.8 35.9,26.6 32.8,26.6 C29.7,26.6 27.7,24.8 27.5,22Z"/><path d="M16.2,22.4 C19.5,21.6 24,21.8 27.8,22.6 M37.8,23.3 C41.5,23.1 45.5,23.5 48.6,24.2"/><path d="M26.2,27 C28.5,29.5 30.8,32.5 31.9,35.5 M38.5,27 C36,29.5 33.2,32.5 31.9,35.5"/><ellipse cx="57.7" cy="12" rx="4.1" ry="2.1" transform="rotate(30 57.7 12)"/></g>
<g fill="#000" filter="url(#f6)"><path d="M26,27 L39.5,26.8 L33.2,36.5 L32.2,36.5Z"/></g>
<ellipse cx="32" cy="10.6" rx="2.6" ry="3.2" fill="#fff"/>
<path d="M52,28 L52.8,35.5" stroke="#f01010" stroke-width="1.3"/>
<ellipse cx="57.7" cy="12" rx="3.2" ry="1.4" transform="rotate(30 57.7 12)" fill="none" stroke="#e81010" stroke-width="0.9"/>
</svg>
<text x="357.2" y="31.7" font-size="10.6" fill="#111" stroke="#111" stroke-width="0.25">(a6)</text>
<svg x="422.5" y="21.3" width="63.8" height="37.7" viewBox="0 0 63 37.5" preserveAspectRatio="none" overflow="hidden">
<rect width="63" height="37.5" fill="#030303"/>
<g filter="url(#grain2)">
<path d="M0,25.5 C3,22.5 6,19.5 8.5,17.5 C11,15.5 13.5,12.5 15,10.5 C17,7.5 20.5,5 26,3.7 C29.5,2.9 36,2.8 40.5,4 C45,5.3 49.5,8 53,10 C56.5,12 60.5,14 63,15.5 L63,37.5 L0,37.5 Z" fill="#333333"/>
<path d="M0,29 L8,24 L12.5,25 L4,32 L0,34Z" fill="#505050"/>
<ellipse cx="32.5" cy="10" rx="11" ry="6.5" fill="#505050"/>
<ellipse cx="26.5" cy="8" rx="4" ry="3" fill="#666666"/>
<ellipse cx="40" cy="9.5" rx="4" ry="3.2" fill="#666666"/>
<ellipse cx="46.5" cy="17" rx="5" ry="3" fill="#505050" opacity="0.8"/>
<ellipse cx="20" cy="34" rx="6" ry="3" fill="#505050" opacity="0.7"/>
<ellipse cx="45" cy="33.5" rx="6" ry="3.5" fill="#505050" opacity="0.7"/>
<ellipse cx="59" cy="28" rx="4" ry="9" fill="#505050" opacity="0.6"/>
<ellipse cx="6" cy="32" rx="6" ry="4" fill="#505050" opacity="0.5"/>
</g>
<circle cx="32.8" cy="10.8" r="4" fill="#6a6a6a"/>
<circle cx="32.8" cy="10.8" r="2.8" fill="#000"/>
<circle cx="39.2" cy="7.8" r="0.8" fill="#ddd"/>
<ellipse cx="58" cy="12" rx="4.6" ry="2.3" transform="rotate(30 58 12)" fill="#f6f6f6"/>
<ellipse cx="58" cy="12" rx="2.4" ry="0.8" transform="rotate(30 58 12)" fill="#8a8a8a"/>
<ellipse cx="32.8" cy="27.4" rx="3.4" ry="2" fill="#0a0a0a"/>
<path d="M27.5,22 C27.3,19.9 30,19.2 32.8,19.2 C35.6,19.2 38.3,19.9 38.1,22 C37.9,24.8 35.9,26.6 32.8,26.6 C29.7,26.6 27.7,24.8 27.5,22Z" fill="#f6f6f6"/>
<ellipse cx="32.8" cy="22.4" rx="3.7" ry="2.3" fill="#7a7a7a"/>
<path d="M30,25.4 Q32.8,23 35.6,25.4" stroke="#f6f6f6" stroke-width="0.9" fill="none"/>
<path d="M16.2,22 C19.5,21.2 24,21.6 27.8,22.6" stroke="#f6f6f6" stroke-width="2.1" fill="none" stroke-linecap="round"/>
<ellipse cx="16.6" cy="22.2" rx="2" ry="1.5" fill="#f6f6f6"/>
<path d="M37.8,23 C41.5,22.8 45.5,23.5 49,24.6" stroke="#f6f6f6" stroke-width="2.1" fill="none" stroke-linecap="round"/>
<ellipse cx="48.8" cy="24.4" rx="1.9" ry="1.3" fill="#f6f6f6"/>
<path d="M26.8,27 C28.8,29.5 31,32.5 32.3,35.5 M39,26.8 C36.6,29.5 34,32.5 32.9,35.5" stroke="#f6f6f6" stroke-width="2.1" fill="none" stroke-linecap="round"/>
<path d="M32.6,34.5 L32.6,37.6" stroke="#f6f6f6" stroke-width="1.4"/>
<circle cx="19.8" cy="29.4" r="1.1" fill="#c4c4c4"/>
<circle cx="22.8" cy="30.8" r="1.1" fill="#8a8a8a"/>
<circle cx="43.8" cy="30.8" r="0.9" fill="#8a8a8a"/>
<path d="M52.4,27.2 L56,26.6 L53.4,36Z" fill="#d8d8d8"/>
</svg>
<path d="M485.9,21.3V59" fill="none" stroke="#8a8a8a" stroke-width="0.8"/>
<path d="M422.5,58.45H486.3" fill="none" stroke="#6a6a6a" stroke-width="1.1"/>
<text x="423.7" y="31.7" font-size="10.6" fill="#eee">(a7)</text>
<svg x="487" y="21.3" width="64.5" height="37.7" viewBox="0 0 63 37.5" preserveAspectRatio="none" overflow="hidden">
<path d="M0,14 C4,12.5 10,11 14,8 C16,5.5 18,4 22,3.2 C30,2 40,2 48,3 C54,4 59,5.5 63,7 L63,37.5 L0,37.5Z" fill="#f2ecf2" filter="url(#p8)"/>
<path d="M0,14 C4,12.5 10,11 14,8 C16,5.5 18,4 22,3.2 C30,2 40,2 48,3 C54,4 59,5.5 63,7 L63,37.5 L0,37.5Z" fill="#000" filter="url(#b8)"/>
<path d="M0,14 C4,12.5 10,11 14,8 C16,5.5 18,4 22,3.2 C30,2 40,2 48,3 C54,4 59,5.5 63,7 L63,37.5 L0,37.5Z" fill="#000" filter="url(#r8)"/>
<g fill="none" stroke="#000" stroke-width="2.6" stroke-linecap="round" filter="url(#a8)"><ellipse cx="32" cy="10.6" rx="4.2" ry="4.8"/><path d="M27.5,22 C27.3,19.9 30,19.2 32.8,19.2 C35.6,19.2 38.3,19.9 38.1,22 C37.9,24.8 35.9,26.6 32.8,26.6 C29.7,26.6 27.7,24.8 27.5,22Z"/><path d="M16.2,22.4 C19.5,21.6 24,21.8 27.8,22.6 M37.8,23.3 C41.5,23.1 45.5,23.5 48.6,24.2"/><path d="M26.2,27 C28.5,29.5 30.8,32.5 31.9,35.5 M38.5,27 C36,29.5 33.2,32.5 31.9,35.5"/><ellipse cx="57.7" cy="12" rx="4.1" ry="2.1" transform="rotate(30 57.7 12)"/></g>
<g fill="#000" filter="url(#f8)"><path d="M27.5,22 C27.3,19.9 30,19.2 32.8,19.2 C35.6,19.2 38.3,19.9 38.1,22 C37.9,24.8 35.9,26.6 32.8,26.6 C29.7,26.6 27.7,24.8 27.5,22Z"/><path d="M25.5,26.5 L39.5,26.5 L32.8,37 L31.2,37Z"/><ellipse cx="20" cy="23.8" rx="5.5" ry="3.2"/><ellipse cx="44.5" cy="24.8" rx="5.5" ry="3.2"/></g>
<ellipse cx="32" cy="10.6" rx="2.4" ry="3.2" fill="#fff"/>
<path d="M52,28 L52.8,35.5" stroke="#f01010" stroke-width="1.3"/>
<ellipse cx="57.7" cy="12" rx="3.2" ry="1.4" transform="rotate(30 57.7 12)" fill="none" stroke="#e81010" stroke-width="0.9"/>
</svg>
<text x="488.2" y="31.7" font-size="10.6" fill="#111" stroke="#111" stroke-width="0.25">(a8)</text>
<svg x="34" y="59" width="62.5" height="48.6" viewBox="0 0 63 47.8" preserveAspectRatio="none" overflow="hidden">
<rect width="63" height="47.8" fill="#171717"/>
<g filter="url(#grain1)">
<rect width="63" height="47.8" fill="#171717"/>
<rect y="0" width="63" height="17" fill="#343434" opacity="0.75"/>
<ellipse cx="12" cy="30" rx="13" ry="8.5" fill="#343434"/>
<ellipse cx="51" cy="29" rx="12" ry="9.5" fill="#343434"/>
<path d="M2,26 C10,24 18,27 24,33 M1,33 C8,31 16,33 22,38 M40,28 C46,25 54,27 61,33 M41,35 C48,32 55,34 62,38 M2,15 C10,14 16,15 21,17 M44,16 C50,16 56,17 62,19" stroke="#404040" stroke-width="1.6" fill="none"/>
<ellipse cx="31.5" cy="41" rx="11" ry="3" fill="#343434" opacity="0.5"/>
<rect y="37.5" width="63" height="6.5" fill="#0c0c0c" opacity="0.7"/>
<rect y="44" width="63" height="3.8" fill="#2c2c2c"/>
</g>
<ellipse cx="32" cy="17" rx="5.6" ry="3.8" fill="#0b0b0b"/>
<path d="M26.5,18 L37.5,18 L31.2,25Z" fill="#101010"/>
<g transform="translate(0,-1)">
<path d="M22.3,9 C22,4.5 25,2.2 28,2.2 C30,2.2 31.5,3 32.3,3.6 C33.2,3 35,2.2 37,2.2 C40,2.2 42.3,4.5 42,9 C41.8,12 40.8,14 39.5,15.8 L37.2,16 C36,14.8 34,14.4 32.3,14.4 C30.5,14.4 28.6,14.8 27.4,16 L25,15.8 C23.5,14 22.4,12 22.3,9Z" fill="#e4e4e4"/>
<path d="M24.2,8.8 C24.2,5.6 26,4 28,4 C30,4 31.5,4.8 32.3,5.4 C33,4.8 35,4 36.6,4 C38.8,4 40.2,5.6 40.1,8.8 C40,11.3 39,12.8 37.5,13.1 C36,12.6 34,12.4 32.3,12.4 C30.5,12.4 28.5,12.6 27,13.1 C25.5,12.8 24.3,11.3 24.2,8.8Z" fill="#ababab"/>
<ellipse cx="32.3" cy="8.2" rx="5" ry="2.4" fill="#b4b4b4" opacity="0.55"/>
<path d="M1.5,9 C1.3,6 3,4.8 5.5,5 C9,5.4 12,5.8 16,5.5 C19,5.3 22,5 24,5.5 L24,9.2 C20,9.3 16,9.6 12,10.2 C9,10.7 7,11.8 5,12 C2.8,12.2 1.6,11 1.5,9Z" fill="#e4e4e4"/>
<path d="M3.2,8.9 C3.2,7.2 4.5,6.5 6,6.6 C9,6.9 12,7 16,6.7 C19,6.5 21.5,6.3 23,6.6 L23,8.2 C20,8.3 16,8.6 12,9.2 C9,9.7 7,10.6 5.2,10.8 C3.9,10.9 3.2,10.1 3.2,8.9Z" fill="#7a7a7a"/>
<path d="M40.2,7.2 C45,7 50,8.2 54.5,9.2 C58,9.9 60.7,10.8 60.6,12.8 C60.5,14.6 58.5,15 56.5,14.4 C52,13.2 46,12.3 40.5,12Z" fill="#e4e4e4"/>
<path d="M41.5,8.4 C45.5,8.3 50,9.3 54.3,10.3 C57.5,11 59.3,11.6 59.2,12.8 C59.1,13.8 57.8,13.8 56.3,13.4 C52,12.3 46,11.4 41.5,11Z" fill="#7a7a7a"/>
</g>
<path d="M21.4,14.6 C24,18.5 27.5,22.5 30.6,25.8 M42.6,15.2 C39,19 35.5,22.5 31.6,25.8 M31.1,24.5 L30.9,36.6" stroke="#e4e4e4" stroke-width="3.4" fill="none" stroke-linecap="round"/>
<path d="M31,27 L31,35" stroke="#777" stroke-width="0.5"/>
<path d="M4,16.8 L11.2,16.6 L8.8,19.6Z" fill="#e4e4e4"/>
<circle cx="14.6" cy="19.8" r="3.2" fill="#8a8a8a" stroke="#d0d0d0" stroke-width="0.9"/>
<ellipse cx="48.6" cy="22.4" rx="2.5" ry="2.8" fill="#6a6a6a" stroke="#a8a8a8" stroke-width="0.7"/>
<rect y="46.9" width="63" height="0.9" fill="#6a6a6a"/>
<path d="M17,22.8H43" stroke="#90d020" stroke-width="0.9" stroke-dasharray="1 0.9"/>
</svg>
<path d="M96.1,59V107.6" fill="none" stroke="#8a8a8a" stroke-width="0.8"/>
<path d="M34,107.05H96.5" fill="none" stroke="#6a6a6a" stroke-width="1.1"/>
<text x="35.2" y="101.2" font-size="10.6" fill="#eee">(b1)</text>
<svg x="97.5" y="59" width="63.5" height="48.6" viewBox="0 0 63 47.8" preserveAspectRatio="none" overflow="hidden">
<rect width="63" height="47.8" fill="#171717"/>
<g filter="url(#grain1)">
<rect width="63" height="47.8" fill="#171717"/>
<rect y="0" width="63" height="17" fill="#343434" opacity="0.75"/>
<ellipse cx="12" cy="30" rx="13" ry="8.5" fill="#343434"/>
<ellipse cx="51" cy="29" rx="12" ry="9.5" fill="#343434"/>
<path d="M2,26 C10,24 18,27 24,33 M1,33 C8,31 16,33 22,38 M40,28 C46,25 54,27 61,33 M41,35 C48,32 55,34 62,38 M2,15 C10,14 16,15 21,17 M44,16 C50,16 56,17 62,19" stroke="#404040" stroke-width="1.6" fill="none"/>
<ellipse cx="31.5" cy="41" rx="11" ry="3" fill="#343434" opacity="0.5"/>
<rect y="37.5" width="63" height="6.5" fill="#0c0c0c" opacity="0.7"/>
<rect y="44" width="63" height="3.8" fill="#2c2c2c"/>
</g>
<ellipse cx="32" cy="17" rx="5.6" ry="3.8" fill="#0b0b0b"/>
<path d="M26.5,18 L37.5,18 L31.2,25Z" fill="#101010"/>
<g transform="translate(0,-1)">
<path d="M22.3,9 C22,4.5 25,2.2 28,2.2 C30,2.2 31.5,3 32.3,3.6 C33.2,3 35,2.2 37,2.2 C40,2.2 42.3,4.5 42,9 C41.8,12 40.8,14 39.5,15.8 L37.2,16 C36,14.8 34,14.4 32.3,14.4 C30.5,14.4 28.6,14.8 27.4,16 L25,15.8 C23.5,14 22.4,12 22.3,9Z" fill="#e4e4e4"/>
<path d="M24.2,8.8 C24.2,5.6 26,4 28,4 C30,4 31.5,4.8 32.3,5.4 C33,4.8 35,4 36.6,4 C38.8,4 40.2,5.6 40.1,8.8 C40,11.3 39,12.8 37.5,13.1 C36,12.6 34,12.4 32.3,12.4 C30.5,12.4 28.5,12.6 27,13.1 C25.5,12.8 24.3,11.3 24.2,8.8Z" fill="#ababab"/>
<ellipse cx="32.3" cy="8.2" rx="5" ry="2.4" fill="#b4b4b4" opacity="0.55"/>
<path d="M1.5,9 C1.3,6 3,4.8 5.5,5 C9,5.4 12,5.8 16,5.5 C19,5.3 22,5 24,5.5 L24,9.2 C20,9.3 16,9.6 12,10.2 C9,10.7 7,11.8 5,12 C2.8,12.2 1.6,11 1.5,9Z" fill="#e4e4e4"/>
<path d="M3.2,8.9 C3.2,7.2 4.5,6.5 6,6.6 C9,6.9 12,7 16,6.7 C19,6.5 21.5,6.3 23,6.6 L23,8.2 C20,8.3 16,8.6 12,9.2 C9,9.7 7,10.6 5.2,10.8 C3.9,10.9 3.2,10.1 3.2,8.9Z" fill="#7a7a7a"/>
<path d="M40.2,7.2 C45,7 50,8.2 54.5,9.2 C58,9.9 60.7,10.8 60.6,12.8 C60.5,14.6 58.5,15 56.5,14.4 C52,13.2 46,12.3 40.5,12Z" fill="#e4e4e4"/>
<path d="M41.5,8.4 C45.5,8.3 50,9.3 54.3,10.3 C57.5,11 59.3,11.6 59.2,12.8 C59.1,13.8 57.8,13.8 56.3,13.4 C52,12.3 46,11.4 41.5,11Z" fill="#7a7a7a"/>
</g>
<path d="M21.4,14.6 C24,18.5 27.5,22.5 30.6,25.8 M42.6,15.2 C39,19 35.5,22.5 31.6,25.8 M31.1,24.5 L30.9,36.6" stroke="#e4e4e4" stroke-width="3.4" fill="none" stroke-linecap="round"/>
<path d="M31,27 L31,35" stroke="#777" stroke-width="0.5"/>
<path d="M4,16.8 L11.2,16.6 L8.8,19.6Z" fill="#e4e4e4"/>
<circle cx="14.6" cy="19.8" r="3.2" fill="#8a8a8a" stroke="#d0d0d0" stroke-width="0.9"/>
<ellipse cx="48.6" cy="22.4" rx="2.5" ry="2.8" fill="#6a6a6a" stroke="#a8a8a8" stroke-width="0.7"/>
<rect y="46.9" width="63" height="0.9" fill="#6a6a6a"/>
</svg>
<path d="M160.6,59V107.6" fill="none" stroke="#8a8a8a" stroke-width="0.8"/>
<path d="M97.5,107.05H161" fill="none" stroke="#6a6a6a" stroke-width="1.1"/>
<text x="98.7" y="101.2" font-size="10.6" fill="#eee">(b2)</text>
<svg x="162.5" y="59" width="63.5" height="48.6" viewBox="0 0 63 47.8" preserveAspectRatio="none" overflow="hidden">
<rect width="63" height="47.8" fill="#171717"/>
<g filter="url(#grain1)">
<rect width="63" height="47.8" fill="#171717"/>
<rect y="0" width="63" height="17" fill="#343434" opacity="0.75"/>
<ellipse cx="12" cy="30" rx="13" ry="8.5" fill="#343434"/>
<ellipse cx="51" cy="29" rx="12" ry="9.5" fill="#343434"/>
<path d="M2,26 C10,24 18,27 24,33 M1,33 C8,31 16,33 22,38 M40,28 C46,25 54,27 61,33 M41,35 C48,32 55,34 62,38 M2,15 C10,14 16,15 21,17 M44,16 C50,16 56,17 62,19" stroke="#404040" stroke-width="1.6" fill="none"/>
<ellipse cx="31.5" cy="41" rx="11" ry="3" fill="#343434" opacity="0.5"/>
<rect y="37.5" width="63" height="6.5" fill="#0c0c0c" opacity="0.7"/>
<rect y="44" width="63" height="3.8" fill="#2c2c2c"/>
</g>
<ellipse cx="32" cy="17" rx="5.6" ry="3.8" fill="#0b0b0b"/>
<path d="M26.5,18 L37.5,18 L31.2,25Z" fill="#101010"/>
<g transform="translate(0,-1)">
<path d="M22.3,9 C22,4.5 25,2.2 28,2.2 C30,2.2 31.5,3 32.3,3.6 C33.2,3 35,2.2 37,2.2 C40,2.2 42.3,4.5 42,9 C41.8,12 40.8,14 39.5,15.8 L37.2,16 C36,14.8 34,14.4 32.3,14.4 C30.5,14.4 28.6,14.8 27.4,16 L25,15.8 C23.5,14 22.4,12 22.3,9Z" fill="#e4e4e4"/>
<path d="M24.2,8.8 C24.2,5.6 26,4 28,4 C30,4 31.5,4.8 32.3,5.4 C33,4.8 35,4 36.6,4 C38.8,4 40.2,5.6 40.1,8.8 C40,11.3 39,12.8 37.5,13.1 C36,12.6 34,12.4 32.3,12.4 C30.5,12.4 28.5,12.6 27,13.1 C25.5,12.8 24.3,11.3 24.2,8.8Z" fill="#ababab"/>
<ellipse cx="32.3" cy="8.2" rx="5" ry="2.4" fill="#b4b4b4" opacity="0.55"/>
<path d="M1.5,9 C1.3,6 3,4.8 5.5,5 C9,5.4 12,5.8 16,5.5 C19,5.3 22,5 24,5.5 L24,9.2 C20,9.3 16,9.6 12,10.2 C9,10.7 7,11.8 5,12 C2.8,12.2 1.6,11 1.5,9Z" fill="#e4e4e4"/>
<path d="M3.2,8.9 C3.2,7.2 4.5,6.5 6,6.6 C9,6.9 12,7 16,6.7 C19,6.5 21.5,6.3 23,6.6 L23,8.2 C20,8.3 16,8.6 12,9.2 C9,9.7 7,10.6 5.2,10.8 C3.9,10.9 3.2,10.1 3.2,8.9Z" fill="#7a7a7a"/>
<path d="M40.2,7.2 C45,7 50,8.2 54.5,9.2 C58,9.9 60.7,10.8 60.6,12.8 C60.5,14.6 58.5,15 56.5,14.4 C52,13.2 46,12.3 40.5,12Z" fill="#e4e4e4"/>
<path d="M41.5,8.4 C45.5,8.3 50,9.3 54.3,10.3 C57.5,11 59.3,11.6 59.2,12.8 C59.1,13.8 57.8,13.8 56.3,13.4 C52,12.3 46,11.4 41.5,11Z" fill="#7a7a7a"/>
</g>
<path d="M21.4,14.6 C24,18.5 27.5,22.5 30.6,25.8 M42.6,15.2 C39,19 35.5,22.5 31.6,25.8 M31.1,24.5 L30.9,36.6" stroke="#e4e4e4" stroke-width="3.4" fill="none" stroke-linecap="round"/>
<path d="M31,27 L31,35" stroke="#777" stroke-width="0.5"/>
<path d="M4,16.8 L11.2,16.6 L8.8,19.6Z" fill="#e4e4e4"/>
<circle cx="14.6" cy="19.8" r="3.2" fill="#8a8a8a" stroke="#d0d0d0" stroke-width="0.9"/>
<ellipse cx="48.6" cy="22.4" rx="2.5" ry="2.8" fill="#6a6a6a" stroke="#a8a8a8" stroke-width="0.7"/>
<rect y="46.9" width="63" height="0.9" fill="#6a6a6a"/>
</svg>
<path d="M225.6,59V107.6" fill="none" stroke="#8a8a8a" stroke-width="0.8"/>
<path d="M162.5,107.05H226" fill="none" stroke="#6a6a6a" stroke-width="1.1"/>
<text x="163.7" y="101.2" font-size="10.6" fill="#eee">(b3)</text>
<svg x="226.5" y="59" width="64.5" height="48.6" viewBox="0 0 63 47.8" preserveAspectRatio="none" overflow="hidden">
<rect x="0.8" y="0.8" width="61.4" height="45.5" fill="#f2ecf2" filter="url(#pz4)"/>
<rect x="0.8" y="0.8" width="61.4" height="45.5" fill="#000" filter="url(#bz4)"/>
<rect x="0.8" y="0.8" width="61.4" height="45.5" fill="#000" filter="url(#r4)"/>
<g fill="none" stroke="#000" stroke-width="1.9" stroke-linecap="round" stroke-linejoin="round" filter="url(#ra4)" transform="translate(1.2,1.4)"><path d="M22.3,9 C22,4.5 25,2.2 28,2.2 C30,2.2 31.5,3 32.3,3.6 C33.2,3 35,2.2 37,2.2 C40,2.2 42.3,4.5 42,9 C41.8,12 40.8,14 39.5,15.8 L37.2,16 C36,14.8 34,14.4 32.3,14.4 C30.5,14.4 28.6,14.8 27.4,16 L25,15.8 C23.5,14 22.4,12 22.3,9Z"/><path d="M1.5,9 C1.3,6 3,4.8 5.5,5 C9,5.4 12,5.8 16,5.5 C19,5.3 22,5 24,5.5 L24,9.2 C20,9.3 16,9.6 12,10.2 C9,10.7 7,11.8 5,12 C2.8,12.2 1.6,11 1.5,9Z"/><path d="M40.2,7.2 C45,7 50,8.2 54.5,9.2 C58,9.9 60.7,10.8 60.6,12.8 C60.5,14.6 58.5,15 56.5,14.4 C52,13.2 46,12.3 40.5,12Z"/><path d="M21.4,14.6 C24,18.5 27.5,22.5 30.6,25.8 M42.6,15.2 C39,19 35.5,22.5 31.6,25.8 M31.1,24.5 L30.9,36.6"/><circle cx="15" cy="21.8" r="3.1"/><circle cx="49.2" cy="24" r="2.4"/></g>
<g fill="none" stroke="#000" stroke-width="1.9" stroke-linecap="round" stroke-linejoin="round" filter="url(#a4)"><path d="M22.3,9 C22,4.5 25,2.2 28,2.2 C30,2.2 31.5,3 32.3,3.6 C33.2,3 35,2.2 37,2.2 C40,2.2 42.3,4.5 42,9 C41.8,12 40.8,14 39.5,15.8 L37.2,16 C36,14.8 34,14.4 32.3,14.4 C30.5,14.4 28.6,14.8 27.4,16 L25,15.8 C23.5,14 22.4,12 22.3,9Z"/><path d="M1.5,9 C1.3,6 3,4.8 5.5,5 C9,5.4 12,5.8 16,5.5 C19,5.3 22,5 24,5.5 L24,9.2 C20,9.3 16,9.6 12,10.2 C9,10.7 7,11.8 5,12 C2.8,12.2 1.6,11 1.5,9Z"/><path d="M40.2,7.2 C45,7 50,8.2 54.5,9.2 C58,9.9 60.7,10.8 60.6,12.8 C60.5,14.6 58.5,15 56.5,14.4 C52,13.2 46,12.3 40.5,12Z"/><path d="M21.4,14.6 C24,18.5 27.5,22.5 30.6,25.8 M42.6,15.2 C39,19 35.5,22.5 31.6,25.8 M31.1,24.5 L30.9,36.6"/><circle cx="15" cy="21.8" r="3.1"/><circle cx="49.2" cy="24" r="2.4"/></g>
<path d="M61.3,13 L61.5,24" stroke="#f01010" stroke-width="1.3"/>
<path d="M22.5,14.5 Q25,16.5 27.5,16.8 M40.5,7.2 C45,7 50,8.2 54.5,9.2 M37,16.5 L39.5,15.8" stroke="#f01010" stroke-width="0.9" fill="none" opacity="0.9"/>
</svg>
<text x="227.7" y="101.2" font-size="10.6" fill="#111" stroke="#111" stroke-width="0.25">(b4)</text>
<svg x="292" y="59" width="63.5" height="48.6" viewBox="0 0 63 47.8" preserveAspectRatio="none" overflow="hidden">
<rect width="63" height="47.8" fill="#171717"/>
<g filter="url(#grain1)">
<rect width="63" height="47.8" fill="#171717"/>
<rect y="0" width="63" height="17" fill="#303030" opacity="0.75"/>
<ellipse cx="12" cy="30" rx="13" ry="8.5" fill="#303030"/>
<ellipse cx="51" cy="29" rx="12" ry="9.5" fill="#303030"/>
<path d="M2,26 C10,24 18,27 24,33 M1,33 C8,31 16,33 22,38 M40,28 C46,25 54,27 61,33 M41,35 C48,32 55,34 62,38 M2,15 C10,14 16,15 21,17 M44,16 C50,16 56,17 62,19" stroke="#404040" stroke-width="1.6" fill="none"/>
<ellipse cx="31.5" cy="41" rx="11" ry="3" fill="#303030" opacity="0.5"/>
<rect y="37.5" width="63" height="6.5" fill="#4a4a4a" opacity="0.7"/>
<rect y="44" width="63" height="3.8" fill="#2c2c2c"/>
</g>
<ellipse cx="32" cy="17" rx="5.6" ry="3.8" fill="#0b0b0b"/>
<path d="M26.5,18 L37.5,18 L31.2,25Z" fill="#101010"/>
<g transform="translate(0,-1)">
<path d="M22.3,9 C22,4.5 25,2.2 28,2.2 C30,2.2 31.5,3 32.3,3.6 C33.2,3 35,2.2 37,2.2 C40,2.2 42.3,4.5 42,9 C41.8,12 40.8,14 39.5,15.8 L37.2,16 C36,14.8 34,14.4 32.3,14.4 C30.5,14.4 28.6,14.8 27.4,16 L25,15.8 C23.5,14 22.4,12 22.3,9Z" fill="#f0f0f0"/>
<path d="M24.2,8.8 C24.2,5.6 26,4 28,4 C30,4 31.5,4.8 32.3,5.4 C33,4.8 35,4 36.6,4 C38.8,4 40.2,5.6 40.1,8.8 C40,11.3 39,12.8 37.5,13.1 C36,12.6 34,12.4 32.3,12.4 C30.5,12.4 28.5,12.6 27,13.1 C25.5,12.8 24.3,11.3 24.2,8.8Z" fill="#d0d0d0"/>
<ellipse cx="32.3" cy="8.2" rx="5" ry="2.4" fill="#b4b4b4" opacity="0.55"/>
<path d="M1.5,9 C1.3,6 3,4.8 5.5,5 C9,5.4 12,5.8 16,5.5 C19,5.3 22,5 24,5.5 L24,9.2 C20,9.3 16,9.6 12,10.2 C9,10.7 7,11.8 5,12 C2.8,12.2 1.6,11 1.5,9Z" fill="#f0f0f0"/>
<path d="M3.2,8.9 C3.2,7.2 4.5,6.5 6,6.6 C9,6.9 12,7 16,6.7 C19,6.5 21.5,6.3 23,6.6 L23,8.2 C20,8.3 16,8.6 12,9.2 C9,9.7 7,10.6 5.2,10.8 C3.9,10.9 3.2,10.1 3.2,8.9Z" fill="#7a7a7a"/>
<path d="M40.2,7.2 C45,7 50,8.2 54.5,9.2 C58,9.9 60.7,10.8 60.6,12.8 C60.5,14.6 58.5,15 56.5,14.4 C52,13.2 46,12.3 40.5,12Z" fill="#f0f0f0"/>
<path d="M41.5,8.4 C45.5,8.3 50,9.3 54.3,10.3 C57.5,11 59.3,11.6 59.2,12.8 C59.1,13.8 57.8,13.8 56.3,13.4 C52,12.3 46,11.4 41.5,11Z" fill="#7a7a7a"/>
</g>
<path d="M21.4,14.6 C24,18.5 27.5,22.5 30.6,25.8 M42.6,15.2 C39,19 35.5,22.5 31.6,25.8 M31.1,24.5 L30.9,36.6" stroke="#f0f0f0" stroke-width="3.4" fill="none" stroke-linecap="round"/>
<path d="M31,27 L31,35" stroke="#777" stroke-width="0.5"/>
<path d="M4,16.8 L11.2,16.6 L8.8,19.6Z" fill="#f0f0f0"/>
<circle cx="14.6" cy="19.8" r="3.2" fill="#8a8a8a" stroke="#d0d0d0" stroke-width="0.9"/>
<ellipse cx="48.6" cy="22.4" rx="2.5" ry="2.8" fill="#6a6a6a" stroke="#a8a8a8" stroke-width="0.7"/>
<rect y="46.9" width="63" height="0.9" fill="#6a6a6a"/>
</svg>
<path d="M355.1,59V107.6" fill="none" stroke="#8a8a8a" stroke-width="0.8"/>
<path d="M292,107.05H355.5" fill="none" stroke="#6a6a6a" stroke-width="1.1"/>
<text x="293.2" y="101.2" font-size="10.6" fill="#eee">(b5)</text>
<svg x="356" y="59" width="65.8" height="48.6" viewBox="0 0 63 47.8" preserveAspectRatio="none" overflow="hidden">
<rect x="0.8" y="0.8" width="61.4" height="45.5" fill="#f2ecf2" filter="url(#pz6)"/>
<rect x="0.8" y="0.8" width="61.4" height="45.5" fill="#000" filter="url(#bz6)"/>
<rect x="0.8" y="0.8" width="61.4" height="45.5" fill="#000" filter="url(#r6)"/>
<g fill="none" stroke="#000" stroke-width="1.5" stroke-linecap="round" stroke-linejoin="round" filter="url(#a6)"><path d="M22.3,9 C22,4.5 25,2.2 28,2.2 C30,2.2 31.5,3 32.3,3.6 C33.2,3 35,2.2 37,2.2 C40,2.2 42.3,4.5 42,9 C41.8,12 40.8,14 39.5,15.8 L37.2,16 C36,14.8 34,14.4 32.3,14.4 C30.5,14.4 28.6,14.8 27.4,16 L25,15.8 C23.5,14 22.4,12 22.3,9Z"/><path d="M1.5,9 C1.3,6 3,4.8 5.5,5 C9,5.4 12,5.8 16,5.5 C19,5.3 22,5 24,5.5 L24,9.2 C20,9.3 16,9.6 12,10.2 C9,10.7 7,11.8 5,12 C2.8,12.2 1.6,11 1.5,9Z"/><path d="M40.2,7.2 C45,7 50,8.2 54.5,9.2 C58,9.9 60.7,10.8 60.6,12.8 C60.5,14.6 58.5,15 56.5,14.4 C52,13.2 46,12.3 40.5,12Z"/><path d="M21.4,14.6 C24,18.5 27.5,22.5 30.6,25.8 M42.6,15.2 C39,19 35.5,22.5 31.6,25.8 M31.1,24.5 L30.9,36.6"/><circle cx="15" cy="21.8" r="3.1"/><circle cx="49.2" cy="24" r="2.4"/></g>
<g fill="#000" filter="url(#f6)"><path d="M22.5,16 L42,16.8 L31.8,31 L31.8,37 L30.2,37 L30.4,31Z"/></g>
<path d="M61.3,13 L61.5,24" stroke="#f01010" stroke-width="1.3"/>
<path d="M22.5,14.5 Q25,16.5 27.5,16.8 M40.5,7.2 C45,7 50,8.2 54.5,9.2 M37,16.5 L39.5,15.8" stroke="#f01010" stroke-width="0.9" fill="none" opacity="0.9"/>
</svg>
<text x="357.2" y="101.2" font-size="10.6" fill="#111" stroke="#111" stroke-width="0.25">(b6)</text>
<svg x="422.5" y="59" width="63.8" height="48.6" viewBox="0 0 63 47.8" preserveAspectRatio="none" overflow="hidden">
<rect width="63" height="47.8" fill="#202020"/>
<g filter="url(#grain2)">
<rect width="63" height="47.8" fill="#202020"/>
<rect y="0" width="63" height="17" fill="#484848" opacity="0.75"/>
<ellipse cx="12" cy="30" rx="13" ry="8.5" fill="#484848"/>
<ellipse cx="51" cy="29" rx="12" ry="9.5" fill="#484848"/>
<path d="M2,26 C10,24 18,27 24,33 M1,33 C8,31 16,33 22,38 M40,28 C46,25 54,27 61,33 M41,35 C48,32 55,34 62,38 M2,15 C10,14 16,15 21,17 M44,16 C50,16 56,17 62,19" stroke="#606060" stroke-width="1.6" fill="none"/>
<ellipse cx="31.5" cy="41" rx="11" ry="3" fill="#484848" opacity="0.5"/>
<rect y="37.5" width="63" height="6.5" fill="#0c0c0c" opacity="0.7"/>
<rect y="44" width="63" height="3.8" fill="#2c2c2c"/>
</g>
<ellipse cx="32" cy="17" rx="5.6" ry="3.8" fill="#0b0b0b"/>
<path d="M26.5,18 L37.5,18 L31.2,25Z" fill="#101010"/>
<g transform="translate(0,-1)">
<path d="M22.3,9 C22,4.5 25,2.2 28,2.2 C30,2.2 31.5,3 32.3,3.6 C33.2,3 35,2.2 37,2.2 C40,2.2 42.3,4.5 42,9 C41.8,12 40.8,14 39.5,15.8 L37.2,16 C36,14.8 34,14.4 32.3,14.4 C30.5,14.4 28.6,14.8 27.4,16 L25,15.8 C23.5,14 22.4,12 22.3,9Z" fill="#f6f6f6"/>
<path d="M24.2,8.8 C24.2,5.6 26,4 28,4 C30,4 31.5,4.8 32.3,5.4 C33,4.8 35,4 36.6,4 C38.8,4 40.2,5.6 40.1,8.8 C40,11.3 39,12.8 37.5,13.1 C36,12.6 34,12.4 32.3,12.4 C30.5,12.4 28.5,12.6 27,13.1 C25.5,12.8 24.3,11.3 24.2,8.8Z" fill="#dcdcdc"/>
<ellipse cx="32.3" cy="8.2" rx="5" ry="2.4" fill="#b4b4b4" opacity="0.55"/>
<path d="M1.5,9 C1.3,6 3,4.8 5.5,5 C9,5.4 12,5.8 16,5.5 C19,5.3 22,5 24,5.5 L24,9.2 C20,9.3 16,9.6 12,10.2 C9,10.7 7,11.8 5,12 C2.8,12.2 1.6,11 1.5,9Z" fill="#f6f6f6"/>
<path d="M3.2,8.9 C3.2,7.2 4.5,6.5 6,6.6 C9,6.9 12,7 16,6.7 C19,6.5 21.5,6.3 23,6.6 L23,8.2 C20,8.3 16,8.6 12,9.2 C9,9.7 7,10.6 5.2,10.8 C3.9,10.9 3.2,10.1 3.2,8.9Z" fill="#7a7a7a"/>
<path d="M40.2,7.2 C45,7 50,8.2 54.5,9.2 C58,9.9 60.7,10.8 60.6,12.8 C60.5,14.6 58.5,15 56.5,14.4 C52,13.2 46,12.3 40.5,12Z" fill="#f6f6f6"/>
<path d="M41.5,8.4 C45.5,8.3 50,9.3 54.3,10.3 C57.5,11 59.3,11.6 59.2,12.8 C59.1,13.8 57.8,13.8 56.3,13.4 C52,12.3 46,11.4 41.5,11Z" fill="#7a7a7a"/>
</g>
<path d="M21.4,14.6 C24,18.5 27.5,22.5 30.6,25.8 M42.6,15.2 C39,19 35.5,22.5 31.6,25.8 M31.1,24.5 L30.9,36.6" stroke="#f6f6f6" stroke-width="3.4" fill="none" stroke-linecap="round"/>
<path d="M31,27 L31,35" stroke="#777" stroke-width="0.5"/>
<path d="M4,16.8 L11.2,16.6 L8.8,19.6Z" fill="#f6f6f6"/>
<circle cx="14.6" cy="19.8" r="3.2" fill="#8a8a8a" stroke="#d0d0d0" stroke-width="0.9"/>
<ellipse cx="48.6" cy="22.4" rx="2.5" ry="2.8" fill="#6a6a6a" stroke="#a8a8a8" stroke-width="0.7"/>
<rect y="46.9" width="63" height="0.9" fill="#6a6a6a"/>
</svg>
<path d="M485.9,59V107.6" fill="none" stroke="#8a8a8a" stroke-width="0.8"/>
<path d="M422.5,107.05H486.3" fill="none" stroke="#6a6a6a" stroke-width="1.1"/>
<text x="423.7" y="101.2" font-size="10.6" fill="#eee">(b7)</text>
<svg x="487" y="59" width="64.5" height="48.6" viewBox="0 0 63 47.8" preserveAspectRatio="none" overflow="hidden">
<rect x="0.8" y="0.8" width="61.4" height="45.5" fill="#f2ecf2" filter="url(#pz8)"/>
<rect x="0.8" y="0.8" width="61.4" height="45.5" fill="#000" filter="url(#bz8)"/>
<rect x="0.8" y="0.8" width="61.4" height="45.5" fill="#000" filter="url(#r8)"/>
<g fill="none" stroke="#000" stroke-width="2.6" stroke-linecap="round" stroke-linejoin="round" filter="url(#a8)"><path d="M22.3,9 C22,4.5 25,2.2 28,2.2 C30,2.2 31.5,3 32.3,3.6 C33.2,3 35,2.2 37,2.2 C40,2.2 42.3,4.5 42,9 C41.8,12 40.8,14 39.5,15.8 L37.2,16 C36,14.8 34,14.4 32.3,14.4 C30.5,14.4 28.6,14.8 27.4,16 L25,15.8 C23.5,14 22.4,12 22.3,9Z"/><path d="M1.5,9 C1.3,6 3,4.8 5.5,5 C9,5.4 12,5.8 16,5.5 C19,5.3 22,5 24,5.5 L24,9.2 C20,9.3 16,9.6 12,10.2 C9,10.7 7,11.8 5,12 C2.8,12.2 1.6,11 1.5,9Z"/><path d="M40.2,7.2 C45,7 50,8.2 54.5,9.2 C58,9.9 60.7,10.8 60.6,12.8 C60.5,14.6 58.5,15 56.5,14.4 C52,13.2 46,12.3 40.5,12Z"/><path d="M21.4,14.6 C24,18.5 27.5,22.5 30.6,25.8 M42.6,15.2 C39,19 35.5,22.5 31.6,25.8 M31.1,24.5 L30.9,36.6"/><circle cx="15" cy="21.8" r="3.1"/><circle cx="49.2" cy="24" r="2.4"/></g>
<g fill="#000" filter="url(#f8)"><path d="M22.3,9 C22,4.5 25,2.2 28,2.2 C30,2.2 31.5,3 32.3,3.6 C33.2,3 35,2.2 37,2.2 C40,2.2 42.3,4.5 42,9 C41.8,12 40.8,14 39.5,15.8 L37.2,16 C36,14.8 34,14.4 32.3,14.4 C30.5,14.4 28.6,14.8 27.4,16 L25,15.8 C23.5,14 22.4,12 22.3,9Z"/><path d="M1.5,9 C1.3,6 3,4.8 5.5,5 C9,5.4 12,5.8 16,5.5 C19,5.3 22,5 24,5.5 L24,9.2 C20,9.3 16,9.6 12,10.2 C9,10.7 7,11.8 5,12 C2.8,12.2 1.6,11 1.5,9Z"/><path d="M40.2,7.2 C45,7 50,8.2 54.5,9.2 C58,9.9 60.7,10.8 60.6,12.8 C60.5,14.6 58.5,15 56.5,14.4 C52,13.2 46,12.3 40.5,12Z"/><path d="M21.5,16 L43,16.8 L31.8,31 L31.8,37 L30.2,37 L30.4,31Z"/><circle cx="15" cy="21.8" r="3.3"/><circle cx="49.2" cy="24" r="2.7"/></g>
<path d="M61.3,13 L61.5,24" stroke="#f01010" stroke-width="1.3"/>
<path d="M22.5,14.5 Q25,16.5 27.5,16.8 M40.5,7.2 C45,7 50,8.2 54.5,9.2 M37,16.5 L39.5,15.8" stroke="#f01010" stroke-width="0.9" fill="none" opacity="0.9"/>
</svg>
<text x="488.2" y="101.2" font-size="10.6" fill="#111" stroke="#111" stroke-width="0.25">(b8)</text>
<svg x="34" y="107.6" width="62.5" height="37.9" viewBox="0 0 63 37.5" preserveAspectRatio="none" overflow="hidden">
<rect width="63" height="37.5" fill="#030303"/>
<g filter="url(#grain1)">
<path d="M0,25.5 C3,22.5 6,19.5 8.5,17.5 C11,15.5 13.5,12.5 15,10.5 C17,7.5 20.5,5 26,3.7 C29.5,2.9 36,2.8 40.5,4 C45,5.3 49.5,8 53,10 C56.5,12 60.5,14 63,15.5 L63,37.5 L0,37.5 Z" fill="#1c1c1c"/>
<path d="M0,29 L8,24 L12.5,25 L4,32 L0,34Z" fill="#363636"/>
<ellipse cx="32.5" cy="10" rx="11" ry="6.5" fill="#363636"/>
<ellipse cx="26.5" cy="8" rx="4" ry="3" fill="#4a4a4a"/>
<ellipse cx="40" cy="9.5" rx="4" ry="3.2" fill="#4a4a4a"/>
<ellipse cx="46.5" cy="17" rx="5" ry="3" fill="#363636" opacity="0.8"/>
<ellipse cx="20" cy="34" rx="6" ry="3" fill="#363636" opacity="0.7"/>
<ellipse cx="45" cy="33.5" rx="6" ry="3.5" fill="#363636" opacity="0.7"/>
<ellipse cx="59" cy="28" rx="4" ry="9" fill="#363636" opacity="0.6"/>
<ellipse cx="6" cy="32" rx="6" ry="4" fill="#363636" opacity="0.5"/>
</g>
<circle cx="32.8" cy="10.8" r="4" fill="#6a6a6a"/>
<circle cx="32.8" cy="10.8" r="2.8" fill="#000"/>
<circle cx="39.2" cy="7.8" r="0.8" fill="#ddd"/>
<ellipse cx="58" cy="12" rx="4.6" ry="2.3" transform="rotate(30 58 12)" fill="#e4e4e4"/>
<ellipse cx="58" cy="12" rx="2.4" ry="0.8" transform="rotate(30 58 12)" fill="#8a8a8a"/>
<ellipse cx="32.8" cy="27.4" rx="3.4" ry="2" fill="#0a0a0a"/>
<path d="M27.5,22 C27.3,19.9 30,19.2 32.8,19.2 C35.6,19.2 38.3,19.9 38.1,22 C37.9,24.8 35.9,26.6 32.8,26.6 C29.7,26.6 27.7,24.8 27.5,22Z" fill="#e4e4e4"/>
<ellipse cx="32.8" cy="22.4" rx="3.7" ry="2.3" fill="#7a7a7a"/>
<path d="M30,25.4 Q32.8,23 35.6,25.4" stroke="#e4e4e4" stroke-width="0.9" fill="none"/>
<path d="M16.2,22 C19.5,21.2 24,21.6 27.8,22.6" stroke="#e4e4e4" stroke-width="2.1" fill="none" stroke-linecap="round"/>
<ellipse cx="16.6" cy="22.2" rx="2" ry="1.5" fill="#e4e4e4"/>
<path d="M37.8,23 C41.5,22.8 45.5,23.5 49,24.6" stroke="#e4e4e4" stroke-width="2.1" fill="none" stroke-linecap="round"/>
<ellipse cx="48.8" cy="24.4" rx="1.9" ry="1.3" fill="#e4e4e4"/>
<path d="M26.8,27 C28.8,29.5 31,32.5 32.3,35.5 M39,26.8 C36.6,29.5 34,32.5 32.9,35.5" stroke="#e4e4e4" stroke-width="2.1" fill="none" stroke-linecap="round"/>
<path d="M32.6,34.5 L32.6,37.6" stroke="#e4e4e4" stroke-width="1.4"/>
<circle cx="19.8" cy="29.4" r="1.1" fill="#c4c4c4"/>
<circle cx="22.8" cy="30.8" r="1.1" fill="#8a8a8a"/>
<circle cx="43.8" cy="30.8" r="0.9" fill="#8a8a8a"/>
<path d="M52.4,27.2 L56,26.6 L53.4,36Z" fill="#d8d8d8"/>
<rect x="12.9" y="18.4" width="38.6" height="18.6" fill="none" stroke="#1a1a50" stroke-width="1.1"/>
<rect x="12.9" y="18.4" width="38.6" height="18.6" fill="none" stroke="#e8dc00" stroke-width="1.1" stroke-dasharray="1.1 1.3"/>
</svg>
<path d="M96.1,107.6V145.5" fill="none" stroke="#8a8a8a" stroke-width="0.8"/>
<path d="M34,144.95H96.5" fill="none" stroke="#6a6a6a" stroke-width="1.1"/>
<text x="35.2" y="118" font-size="10.6" fill="#eee">(c1)</text>
<svg x="97.5" y="107.6" width="63.5" height="37.9" viewBox="0 0 63 37.5" preserveAspectRatio="none" overflow="hidden">
<rect width="63" height="37.5" fill="#030303"/>
<g filter="url(#grain1)">
<path d="M0,25.5 C3,22.5 6,19.5 8.5,17.5 C11,15.5 13.5,12.5 15,10.5 C17,7.5 20.5,5 26,3.7 C29.5,2.9 36,2.8 40.5,4 C45,5.3 49.5,8 53,10 C56.5,12 60.5,14 63,15.5 L63,37.5 L0,37.5 Z" fill="#1a1a1a"/>
<path d="M0,29 L8,24 L12.5,25 L4,32 L0,34Z" fill="#333333"/>
<ellipse cx="32.5" cy="10" rx="11" ry="6.5" fill="#333333"/>
<ellipse cx="26.5" cy="8" rx="4" ry="3" fill="#4a4a4a"/>
<ellipse cx="40" cy="9.5" rx="4" ry="3.2" fill="#4a4a4a"/>
<ellipse cx="46.5" cy="17" rx="5" ry="3" fill="#333333" opacity="0.8"/>
<ellipse cx="20" cy="34" rx="6" ry="3" fill="#333333" opacity="0.7"/>
<ellipse cx="45" cy="33.5" rx="6" ry="3.5" fill="#333333" opacity="0.7"/>
<ellipse cx="59" cy="28" rx="4" ry="9" fill="#333333" opacity="0.6"/>
<ellipse cx="6" cy="32" rx="6" ry="4" fill="#333333" opacity="0.5"/>
</g>
<circle cx="32.8" cy="10.8" r="4" fill="#6a6a6a"/>
<circle cx="32.8" cy="10.8" r="2.8" fill="#000"/>
<circle cx="39.2" cy="7.8" r="0.8" fill="#ddd"/>
<ellipse cx="58" cy="12" rx="4.6" ry="2.3" transform="rotate(30 58 12)" fill="#e4e4e4"/>
<ellipse cx="58" cy="12" rx="2.4" ry="0.8" transform="rotate(30 58 12)" fill="#8a8a8a"/>
<ellipse cx="32.8" cy="27.4" rx="3.4" ry="2" fill="#0a0a0a"/>
<path d="M27.5,22 C27.3,19.9 30,19.2 32.8,19.2 C35.6,19.2 38.3,19.9 38.1,22 C37.9,24.8 35.9,26.6 32.8,26.6 C29.7,26.6 27.7,24.8 27.5,22Z" fill="#e4e4e4"/>
<ellipse cx="32.8" cy="22.4" rx="3.7" ry="2.3" fill="#7a7a7a"/>
<path d="M30,25.4 Q32.8,23 35.6,25.4" stroke="#e4e4e4" stroke-width="0.9" fill="none"/>
<path d="M16.2,22 C19.5,21.2 24,21.6 27.8,22.6" stroke="#e4e4e4" stroke-width="2.1" fill="none" stroke-linecap="round"/>
<ellipse cx="16.6" cy="22.2" rx="2" ry="1.5" fill="#e4e4e4"/>
<path d="M37.8,23 C41.5,22.8 45.5,23.5 49,24.6" stroke="#e4e4e4" stroke-width="2.1" fill="none" stroke-linecap="round"/>
<ellipse cx="48.8" cy="24.4" rx="1.9" ry="1.3" fill="#e4e4e4"/>
<path d="M26.8,27 C28.8,29.5 31,32.5 32.3,35.5 M39,26.8 C36.6,29.5 34,32.5 32.9,35.5" stroke="#e4e4e4" stroke-width="2.1" fill="none" stroke-linecap="round"/>
<path d="M32.6,34.5 L32.6,37.6" stroke="#e4e4e4" stroke-width="1.4"/>
<circle cx="19.8" cy="29.4" r="1.1" fill="#c4c4c4"/>
<circle cx="22.8" cy="30.8" r="1.1" fill="#8a8a8a"/>
<circle cx="43.8" cy="30.8" r="0.9" fill="#8a8a8a"/>
<path d="M52.4,27.2 L56,26.6 L53.4,36Z" fill="#d8d8d8"/>
</svg>
<path d="M160.6,107.6V145.5" fill="none" stroke="#8a8a8a" stroke-width="0.8"/>
<path d="M97.5,144.95H161" fill="none" stroke="#6a6a6a" stroke-width="1.1"/>
<text x="98.7" y="118" font-size="10.6" fill="#eee">(c2)</text>
<svg x="162.5" y="107.6" width="63.5" height="37.9" viewBox="0 0 63 37.5" preserveAspectRatio="none" overflow="hidden">
<rect width="63" height="37.5" fill="#030303"/>
<g filter="url(#grain1)">
<path d="M0,25.5 C3,22.5 6,19.5 8.5,17.5 C11,15.5 13.5,12.5 15,10.5 C17,7.5 20.5,5 26,3.7 C29.5,2.9 36,2.8 40.5,4 C45,5.3 49.5,8 53,10 C56.5,12 60.5,14 63,15.5 L63,37.5 L0,37.5 Z" fill="#1b1b1b"/>
<path d="M0,29 L8,24 L12.5,25 L4,32 L0,34Z" fill="#343434"/>
<ellipse cx="32.5" cy="10" rx="11" ry="6.5" fill="#343434"/>
<ellipse cx="26.5" cy="8" rx="4" ry="3" fill="#4a4a4a"/>
<ellipse cx="40" cy="9.5" rx="4" ry="3.2" fill="#4a4a4a"/>
<ellipse cx="46.5" cy="17" rx="5" ry="3" fill="#343434" opacity="0.8"/>
<ellipse cx="20" cy="34" rx="6" ry="3" fill="#343434" opacity="0.7"/>
<ellipse cx="45" cy="33.5" rx="6" ry="3.5" fill="#343434" opacity="0.7"/>
<ellipse cx="59" cy="28" rx="4" ry="9" fill="#343434" opacity="0.6"/>
<ellipse cx="6" cy="32" rx="6" ry="4" fill="#343434" opacity="0.5"/>
</g>
<circle cx="32.8" cy="10.8" r="4" fill="#6a6a6a"/>
<circle cx="32.8" cy="10.8" r="2.8" fill="#000"/>
<circle cx="39.2" cy="7.8" r="0.8" fill="#ddd"/>
<ellipse cx="58" cy="12" rx="4.6" ry="2.3" transform="rotate(30 58 12)" fill="#e4e4e4"/>
<ellipse cx="58" cy="12" rx="2.4" ry="0.8" transform="rotate(30 58 12)" fill="#8a8a8a"/>
<ellipse cx="32.8" cy="27.4" rx="3.4" ry="2" fill="#0a0a0a"/>
<path d="M27.5,22 C27.3,19.9 30,19.2 32.8,19.2 C35.6,19.2 38.3,19.9 38.1,22 C37.9,24.8 35.9,26.6 32.8,26.6 C29.7,26.6 27.7,24.8 27.5,22Z" fill="#e4e4e4"/>
<ellipse cx="32.8" cy="22.4" rx="3.7" ry="2.3" fill="#7a7a7a"/>
<path d="M30,25.4 Q32.8,23 35.6,25.4" stroke="#e4e4e4" stroke-width="0.9" fill="none"/>
<path d="M16.2,22 C19.5,21.2 24,21.6 27.8,22.6" stroke="#e4e4e4" stroke-width="2.1" fill="none" stroke-linecap="round"/>
<ellipse cx="16.6" cy="22.2" rx="2" ry="1.5" fill="#e4e4e4"/>
<path d="M37.8,23 C41.5,22.8 45.5,23.5 49,24.6" stroke="#e4e4e4" stroke-width="2.1" fill="none" stroke-linecap="round"/>
<ellipse cx="48.8" cy="24.4" rx="1.9" ry="1.3" fill="#e4e4e4"/>
<path d="M26.8,27 C28.8,29.5 31,32.5 32.3,35.5 M39,26.8 C36.6,29.5 34,32.5 32.9,35.5" stroke="#e4e4e4" stroke-width="2.1" fill="none" stroke-linecap="round"/>
<path d="M32.6,34.5 L32.6,37.6" stroke="#e4e4e4" stroke-width="1.4"/>
<circle cx="19.8" cy="29.4" r="1.1" fill="#c4c4c4"/>
<circle cx="22.8" cy="30.8" r="1.1" fill="#8a8a8a"/>
<circle cx="43.8" cy="30.8" r="0.9" fill="#8a8a8a"/>
<path d="M52.4,27.2 L56,26.6 L53.4,36Z" fill="#d8d8d8"/>
</svg>
<path d="M225.6,107.6V145.5" fill="none" stroke="#8a8a8a" stroke-width="0.8"/>
<path d="M162.5,144.95H226" fill="none" stroke="#6a6a6a" stroke-width="1.1"/>
<text x="163.7" y="118" font-size="10.6" fill="#eee">(c3)</text>
<svg x="226.5" y="107.6" width="64.5" height="37.9" viewBox="0 0 63 37.5" preserveAspectRatio="none" overflow="hidden">
<path d="M0,14 C4,12.5 10,11 14,8 C16,5.5 18,4 22,3.2 C30,2 40,2 48,3 C54,4 59,5.5 63,7 L63,37.5 L0,37.5Z" fill="#f2ecf2" filter="url(#p4)"/>
<path d="M0,14 C4,12.5 10,11 14,8 C16,5.5 18,4 22,3.2 C30,2 40,2 48,3 C54,4 59,5.5 63,7 L63,37.5 L0,37.5Z" fill="#000" filter="url(#b4)"/>
<path d="M0,14 C4,12.5 10,11 14,8 C16,5.5 18,4 22,3.2 C30,2 40,2 48,3 C54,4 59,5.5 63,7 L63,37.5 L0,37.5Z" fill="#000" filter="url(#r4)"/>
<g fill="none" stroke="#000" stroke-width="1.9" stroke-linecap="round" filter="url(#ra4)" transform="translate(1,1.2)"><ellipse cx="32" cy="10.6" rx="4.2" ry="4.8"/><path d="M27.5,22 C27.3,19.9 30,19.2 32.8,19.2 C35.6,19.2 38.3,19.9 38.1,22 C37.9,24.8 35.9,26.6 32.8,26.6 C29.7,26.6 27.7,24.8 27.5,22Z"/><path d="M16.2,22.4 C19.5,21.6 24,21.8 27.8,22.6 M37.8,23.3 C41.5,23.1 45.5,23.5 48.6,24.2"/><path d="M26.2,27 C28.5,29.5 30.8,32.5 31.9,35.5 M38.5,27 C36,29.5 33.2,32.5 31.9,35.5"/><ellipse cx="57.7" cy="12" rx="4.1" ry="2.1" transform="rotate(30 57.7 12)"/></g>
<g fill="none" stroke="#000" stroke-width="1.9" stroke-linecap="round" filter="url(#a4)"><ellipse cx="32" cy="10.6" rx="4.2" ry="4.8"/><path d="M27.5,22 C27.3,19.9 30,19.2 32.8,19.2 C35.6,19.2 38.3,19.9 38.1,22 C37.9,24.8 35.9,26.6 32.8,26.6 C29.7,26.6 27.7,24.8 27.5,22Z"/><path d="M16.2,22.4 C19.5,21.6 24,21.8 27.8,22.6 M37.8,23.3 C41.5,23.1 45.5,23.5 48.6,24.2"/><path d="M26.2,27 C28.5,29.5 30.8,32.5 31.9,35.5 M38.5,27 C36,29.5 33.2,32.5 31.9,35.5"/><ellipse cx="57.7" cy="12" rx="4.1" ry="2.1" transform="rotate(30 57.7 12)"/></g>
<ellipse cx="32" cy="10.6" rx="2.6" ry="3.2" fill="#fff"/>
<path d="M52,28 L52.8,35.5" stroke="#f01010" stroke-width="1.3"/>
<ellipse cx="57.7" cy="12" rx="3.2" ry="1.4" transform="rotate(30 57.7 12)" fill="none" stroke="#e81010" stroke-width="0.9"/>
</svg>
<text x="227.7" y="118" font-size="10.6" fill="#111" stroke="#111" stroke-width="0.25">(c4)</text>
<svg x="292" y="107.6" width="63.5" height="37.9" viewBox="0 0 63 37.5" preserveAspectRatio="none" overflow="hidden">
<rect width="63" height="37.5" fill="#030303"/>
<g filter="url(#grain1)">
<path d="M0,25.5 C3,22.5 6,19.5 8.5,17.5 C11,15.5 13.5,12.5 15,10.5 C17,7.5 20.5,5 26,3.7 C29.5,2.9 36,2.8 40.5,4 C45,5.3 49.5,8 53,10 C56.5,12 60.5,14 63,15.5 L63,37.5 L0,37.5 Z" fill="#1e1e1e"/>
<path d="M0,29 L8,24 L12.5,25 L4,32 L0,34Z" fill="#3a3a3a"/>
<ellipse cx="32.5" cy="10" rx="11" ry="6.5" fill="#3a3a3a"/>
<ellipse cx="26.5" cy="8" rx="4" ry="3" fill="#4a4a4a"/>
<ellipse cx="40" cy="9.5" rx="4" ry="3.2" fill="#4a4a4a"/>
<ellipse cx="46.5" cy="17" rx="5" ry="3" fill="#3a3a3a" opacity="0.8"/>
<ellipse cx="20" cy="34" rx="6" ry="3" fill="#3a3a3a" opacity="0.7"/>
<ellipse cx="45" cy="33.5" rx="6" ry="3.5" fill="#3a3a3a" opacity="0.7"/>
<ellipse cx="59" cy="28" rx="4" ry="9" fill="#3a3a3a" opacity="0.6"/>
<ellipse cx="6" cy="32" rx="6" ry="4" fill="#3a3a3a" opacity="0.5"/>
</g>
<circle cx="32.8" cy="10.8" r="4" fill="#6a6a6a"/>
<circle cx="32.8" cy="10.8" r="2.8" fill="#000"/>
<circle cx="39.2" cy="7.8" r="0.8" fill="#ddd"/>
<ellipse cx="58" cy="12" rx="4.6" ry="2.3" transform="rotate(30 58 12)" fill="#f0f0f0"/>
<ellipse cx="58" cy="12" rx="2.4" ry="0.8" transform="rotate(30 58 12)" fill="#8a8a8a"/>
<ellipse cx="32.8" cy="27.4" rx="3.4" ry="2" fill="#0a0a0a"/>
<path d="M27.5,22 C27.3,19.9 30,19.2 32.8,19.2 C35.6,19.2 38.3,19.9 38.1,22 C37.9,24.8 35.9,26.6 32.8,26.6 C29.7,26.6 27.7,24.8 27.5,22Z" fill="#f0f0f0"/>
<ellipse cx="32.8" cy="22.4" rx="3.7" ry="2.3" fill="#c8c8c8"/>
<path d="M30,25.4 Q32.8,23 35.6,25.4" stroke="#f0f0f0" stroke-width="0.9" fill="none"/>
<path d="M16.2,22 C19.5,21.2 24,21.6 27.8,22.6" stroke="#f0f0f0" stroke-width="2.1" fill="none" stroke-linecap="round"/>
<ellipse cx="16.6" cy="22.2" rx="2" ry="1.5" fill="#f0f0f0"/>
<path d="M37.8,23 C41.5,22.8 45.5,23.5 49,24.6" stroke="#f0f0f0" stroke-width="2.1" fill="none" stroke-linecap="round"/>
<ellipse cx="48.8" cy="24.4" rx="1.9" ry="1.3" fill="#f0f0f0"/>
<path d="M26.8,27 C28.8,29.5 31,32.5 32.3,35.5 M39,26.8 C36.6,29.5 34,32.5 32.9,35.5" stroke="#f0f0f0" stroke-width="2.1" fill="none" stroke-linecap="round"/>
<path d="M32.6,34.5 L32.6,37.6" stroke="#f0f0f0" stroke-width="1.4"/>
<circle cx="19.8" cy="29.4" r="1.1" fill="#c4c4c4"/>
<circle cx="22.8" cy="30.8" r="1.1" fill="#8a8a8a"/>
<circle cx="43.8" cy="30.8" r="0.9" fill="#8a8a8a"/>
<path d="M52.4,27.2 L56,26.6 L53.4,36Z" fill="#d8d8d8"/>
</svg>
<path d="M355.1,107.6V145.5" fill="none" stroke="#8a8a8a" stroke-width="0.8"/>
<path d="M292,144.95H355.5" fill="none" stroke="#6a6a6a" stroke-width="1.1"/>
<text x="293.2" y="118" font-size="10.6" fill="#eee">(c5)</text>
<svg x="356" y="107.6" width="65.8" height="37.9" viewBox="0 0 63 37.5" preserveAspectRatio="none" overflow="hidden">
<path d="M0,14 C4,12.5 10,11 14,8 C16,5.5 18,4 22,3.2 C30,2 40,2 48,3 C54,4 59,5.5 63,7 L63,37.5 L0,37.5Z" fill="#f2ecf2" filter="url(#p6)"/>
<path d="M0,14 C4,12.5 10,11 14,8 C16,5.5 18,4 22,3.2 C30,2 40,2 48,3 C54,4 59,5.5 63,7 L63,37.5 L0,37.5Z" fill="#000" filter="url(#b6)"/>
<path d="M0,14 C4,12.5 10,11 14,8 C16,5.5 18,4 22,3.2 C30,2 40,2 48,3 C54,4 59,5.5 63,7 L63,37.5 L0,37.5Z" fill="#000" filter="url(#r6)"/>
<g fill="none" stroke="#000" stroke-width="2.0" stroke-linecap="round" filter="url(#a6)"><ellipse cx="32" cy="10.6" rx="4.2" ry="4.8"/><path d="M27.5,22 C27.3,19.9 30,19.2 32.8,19.2 C35.6,19.2 38.3,19.9 38.1,22 C37.9,24.8 35.9,26.6 32.8,26.6 C29.7,26.6 27.7,24.8 27.5,22Z"/><path d="M16.2,22.4 C19.5,21.6 24,21.8 27.8,22.6 M37.8,23.3 C41.5,23.1 45.5,23.5 48.6,24.2"/><path d="M26.2,27 C28.5,29.5 30.8,32.5 31.9,35.5 M38.5,27 C36,29.5 33.2,32.5 31.9,35.5"/><ellipse cx="57.7" cy="12" rx="4.1" ry="2.1" transform="rotate(30 57.7 12)"/></g>
<g fill="#000" filter="url(#f6)"><path d="M26,27 L39.5,26.8 L33.2,36.5 L32.2,36.5Z"/></g>
<ellipse cx="32" cy="10.6" rx="2.6" ry="3.2" fill="#fff"/>
<path d="M52,28 L52.8,35.5" stroke="#f01010" stroke-width="1.3"/>
<ellipse cx="57.7" cy="12" rx="3.2" ry="1.4" transform="rotate(30 57.7 12)" fill="none" stroke="#e81010" stroke-width="0.9"/>
</svg>
<text x="357.2" y="118" font-size="10.6" fill="#111" stroke="#111" stroke-width="0.25">(c6)</text>
<svg x="422.5" y="107.6" width="63.8" height="37.9" viewBox="0 0 63 37.5" preserveAspectRatio="none" overflow="hidden">
<rect width="63" height="37.5" fill="#030303"/>
<g filter="url(#grain2)">
<path d="M0,25.5 C3,22.5 6,19.5 8.5,17.5 C11,15.5 13.5,12.5 15,10.5 C17,7.5 20.5,5 26,3.7 C29.5,2.9 36,2.8 40.5,4 C45,5.3 49.5,8 53,10 C56.5,12 60.5,14 63,15.5 L63,37.5 L0,37.5 Z" fill="#333333"/>
<path d="M0,29 L8,24 L12.5,25 L4,32 L0,34Z" fill="#505050"/>
<ellipse cx="32.5" cy="10" rx="11" ry="6.5" fill="#505050"/>
<ellipse cx="26.5" cy="8" rx="4" ry="3" fill="#666666"/>
<ellipse cx="40" cy="9.5" rx="4" ry="3.2" fill="#666666"/>
<ellipse cx="46.5" cy="17" rx="5" ry="3" fill="#505050" opacity="0.8"/>
<ellipse cx="20" cy="34" rx="6" ry="3" fill="#505050" opacity="0.7"/>
<ellipse cx="45" cy="33.5" rx="6" ry="3.5" fill="#505050" opacity="0.7"/>
<ellipse cx="59" cy="28" rx="4" ry="9" fill="#505050" opacity="0.6"/>
<ellipse cx="6" cy="32" rx="6" ry="4" fill="#505050" opacity="0.5"/>
</g>
<circle cx="32.8" cy="10.8" r="4" fill="#6a6a6a"/>
<circle cx="32.8" cy="10.8" r="2.8" fill="#000"/>
<circle cx="39.2" cy="7.8" r="0.8" fill="#ddd"/>
<ellipse cx="58" cy="12" rx="4.6" ry="2.3" transform="rotate(30 58 12)" fill="#f6f6f6"/>
<ellipse cx="58" cy="12" rx="2.4" ry="0.8" transform="rotate(30 58 12)" fill="#8a8a8a"/>
<ellipse cx="32.8" cy="27.4" rx="3.4" ry="2" fill="#0a0a0a"/>
<path d="M27.5,22 C27.3,19.9 30,19.2 32.8,19.2 C35.6,19.2 38.3,19.9 38.1,22 C37.9,24.8 35.9,26.6 32.8,26.6 C29.7,26.6 27.7,24.8 27.5,22Z" fill="#f6f6f6"/>
<ellipse cx="32.8" cy="22.4" rx="3.7" ry="2.3" fill="#7a7a7a"/>
<path d="M30,25.4 Q32.8,23 35.6,25.4" stroke="#f6f6f6" stroke-width="0.9" fill="none"/>
<path d="M16.2,22 C19.5,21.2 24,21.6 27.8,22.6" stroke="#f6f6f6" stroke-width="2.1" fill="none" stroke-linecap="round"/>
<ellipse cx="16.6" cy="22.2" rx="2" ry="1.5" fill="#f6f6f6"/>
<path d="M37.8,23 C41.5,22.8 45.5,23.5 49,24.6" stroke="#f6f6f6" stroke-width="2.1" fill="none" stroke-linecap="round"/>
<ellipse cx="48.8" cy="24.4" rx="1.9" ry="1.3" fill="#f6f6f6"/>
<path d="M26.8,27 C28.8,29.5 31,32.5 32.3,35.5 M39,26.8 C36.6,29.5 34,32.5 32.9,35.5" stroke="#f6f6f6" stroke-width="2.1" fill="none" stroke-linecap="round"/>
<path d="M32.6,34.5 L32.6,37.6" stroke="#f6f6f6" stroke-width="1.4"/>
<circle cx="19.8" cy="29.4" r="1.1" fill="#c4c4c4"/>
<circle cx="22.8" cy="30.8" r="1.1" fill="#8a8a8a"/>
<circle cx="43.8" cy="30.8" r="0.9" fill="#8a8a8a"/>
<path d="M52.4,27.2 L56,26.6 L53.4,36Z" fill="#d8d8d8"/>
</svg>
<path d="M485.9,107.6V145.5" fill="none" stroke="#8a8a8a" stroke-width="0.8"/>
<path d="M422.5,144.95H486.3" fill="none" stroke="#6a6a6a" stroke-width="1.1"/>
<text x="423.7" y="118" font-size="10.6" fill="#eee">(c7)</text>
<svg x="487" y="107.6" width="64.5" height="37.9" viewBox="0 0 63 37.5" preserveAspectRatio="none" overflow="hidden">
<path d="M0,14 C4,12.5 10,11 14,8 C16,5.5 18,4 22,3.2 C30,2 40,2 48,3 C54,4 59,5.5 63,7 L63,37.5 L0,37.5Z" fill="#f2ecf2" filter="url(#p8)"/>
<path d="M0,14 C4,12.5 10,11 14,8 C16,5.5 18,4 22,3.2 C30,2 40,2 48,3 C54,4 59,5.5 63,7 L63,37.5 L0,37.5Z" fill="#000" filter="url(#b8)"/>
<path d="M0,14 C4,12.5 10,11 14,8 C16,5.5 18,4 22,3.2 C30,2 40,2 48,3 C54,4 59,5.5 63,7 L63,37.5 L0,37.5Z" fill="#000" filter="url(#r8)"/>
<g fill="none" stroke="#000" stroke-width="2.6" stroke-linecap="round" filter="url(#a8)"><ellipse cx="32" cy="10.6" rx="4.2" ry="4.8"/><path d="M27.5,22 C27.3,19.9 30,19.2 32.8,19.2 C35.6,19.2 38.3,19.9 38.1,22 C37.9,24.8 35.9,26.6 32.8,26.6 C29.7,26.6 27.7,24.8 27.5,22Z"/><path d="M16.2,22.4 C19.5,21.6 24,21.8 27.8,22.6 M37.8,23.3 C41.5,23.1 45.5,23.5 48.6,24.2"/><path d="M26.2,27 C28.5,29.5 30.8,32.5 31.9,35.5 M38.5,27 C36,29.5 33.2,32.5 31.9,35.5"/><ellipse cx="57.7" cy="12" rx="4.1" ry="2.1" transform="rotate(30 57.7 12)"/></g>
<g fill="#000" filter="url(#f8)"><path d="M27.5,22 C27.3,19.9 30,19.2 32.8,19.2 C35.6,19.2 38.3,19.9 38.1,22 C37.9,24.8 35.9,26.6 32.8,26.6 C29.7,26.6 27.7,24.8 27.5,22Z"/><path d="M25.5,26.5 L39.5,26.5 L32.8,37 L31.2,37Z"/><ellipse cx="20" cy="23.8" rx="5.5" ry="3.2"/><ellipse cx="44.5" cy="24.8" rx="5.5" ry="3.2"/></g>
<ellipse cx="32" cy="10.6" rx="2.4" ry="3.2" fill="#fff"/>
<path d="M52,28 L52.8,35.5" stroke="#f01010" stroke-width="1.3"/>
<ellipse cx="57.7" cy="12" rx="3.2" ry="1.4" transform="rotate(30 57.7 12)" fill="none" stroke="#e81010" stroke-width="0.9"/>
</svg>
<text x="488.2" y="118" font-size="10.6" fill="#111" stroke="#111" stroke-width="0.25">(c8)</text>
<svg x="34" y="145.5" width="62.5" height="47.3" viewBox="0 0 63 47.8" preserveAspectRatio="none" overflow="hidden">
<rect width="63" height="47.8" fill="#171717"/>
<g filter="url(#grain1)">
<rect width="63" height="47.8" fill="#171717"/>
<rect y="0" width="63" height="17" fill="#343434" opacity="0.75"/>
<ellipse cx="12" cy="30" rx="13" ry="8.5" fill="#343434"/>
<ellipse cx="51" cy="29" rx="12" ry="9.5" fill="#343434"/>
<path d="M2,26 C10,24 18,27 24,33 M1,33 C8,31 16,33 22,38 M40,28 C46,25 54,27 61,33 M41,35 C48,32 55,34 62,38 M2,15 C10,14 16,15 21,17 M44,16 C50,16 56,17 62,19" stroke="#404040" stroke-width="1.6" fill="none"/>
<ellipse cx="31.5" cy="41" rx="11" ry="3" fill="#343434" opacity="0.5"/>
<rect y="37.5" width="63" height="6.5" fill="#0c0c0c" opacity="0.7"/>
<rect y="44" width="63" height="3.8" fill="#2c2c2c"/>
</g>
<ellipse cx="32" cy="17" rx="5.6" ry="3.8" fill="#0b0b0b"/>
<path d="M26.5,18 L37.5,18 L31.2,25Z" fill="#101010"/>
<g transform="translate(0,-1)">
<path d="M22.3,9 C22,4.5 25,2.2 28,2.2 C30,2.2 31.5,3 32.3,3.6 C33.2,3 35,2.2 37,2.2 C40,2.2 42.3,4.5 42,9 C41.8,12 40.8,14 39.5,15.8 L37.2,16 C36,14.8 34,14.4 32.3,14.4 C30.5,14.4 28.6,14.8 27.4,16 L25,15.8 C23.5,14 22.4,12 22.3,9Z" fill="#e4e4e4"/>
<path d="M24.2,8.8 C24.2,5.6 26,4 28,4 C30,4 31.5,4.8 32.3,5.4 C33,4.8 35,4 36.6,4 C38.8,4 40.2,5.6 40.1,8.8 C40,11.3 39,12.8 37.5,13.1 C36,12.6 34,12.4 32.3,12.4 C30.5,12.4 28.5,12.6 27,13.1 C25.5,12.8 24.3,11.3 24.2,8.8Z" fill="#ababab"/>
<ellipse cx="32.3" cy="8.2" rx="5" ry="2.4" fill="#b4b4b4" opacity="0.55"/>
<path d="M1.5,9 C1.3,6 3,4.8 5.5,5 C9,5.4 12,5.8 16,5.5 C19,5.3 22,5 24,5.5 L24,9.2 C20,9.3 16,9.6 12,10.2 C9,10.7 7,11.8 5,12 C2.8,12.2 1.6,11 1.5,9Z" fill="#e4e4e4"/>
<path d="M3.2,8.9 C3.2,7.2 4.5,6.5 6,6.6 C9,6.9 12,7 16,6.7 C19,6.5 21.5,6.3 23,6.6 L23,8.2 C20,8.3 16,8.6 12,9.2 C9,9.7 7,10.6 5.2,10.8 C3.9,10.9 3.2,10.1 3.2,8.9Z" fill="#7a7a7a"/>
<path d="M40.2,7.2 C45,7 50,8.2 54.5,9.2 C58,9.9 60.7,10.8 60.6,12.8 C60.5,14.6 58.5,15 56.5,14.4 C52,13.2 46,12.3 40.5,12Z" fill="#e4e4e4"/>
<path d="M41.5,8.4 C45.5,8.3 50,9.3 54.3,10.3 C57.5,11 59.3,11.6 59.2,12.8 C59.1,13.8 57.8,13.8 56.3,13.4 C52,12.3 46,11.4 41.5,11Z" fill="#7a7a7a"/>
</g>
<path d="M21.4,14.6 C24,18.5 27.5,22.5 30.6,25.8 M42.6,15.2 C39,19 35.5,22.5 31.6,25.8 M31.1,24.5 L30.9,36.6" stroke="#e4e4e4" stroke-width="3.4" fill="none" stroke-linecap="round"/>
<path d="M31,27 L31,35" stroke="#777" stroke-width="0.5"/>
<path d="M4,16.8 L11.2,16.6 L8.8,19.6Z" fill="#e4e4e4"/>
<circle cx="14.6" cy="19.8" r="3.2" fill="#8a8a8a" stroke="#d0d0d0" stroke-width="0.9"/>
<ellipse cx="48.6" cy="22.4" rx="2.5" ry="2.8" fill="#6a6a6a" stroke="#a8a8a8" stroke-width="0.7"/>
<rect y="46.9" width="63" height="0.9" fill="#6a6a6a"/>
<path d="M17,22.8H43" stroke="#90d020" stroke-width="0.9" stroke-dasharray="1 0.9"/>
</svg>
<path d="M96.1,145.5V192.8" fill="none" stroke="#8a8a8a" stroke-width="0.8"/>
<path d="M34,192.25H96.5" fill="none" stroke="#6a6a6a" stroke-width="1.1"/>
<text x="35.2" y="186.4" font-size="10.6" fill="#eee">(d1)</text>
<svg x="97.5" y="145.5" width="63.5" height="47.3" viewBox="0 0 63 47.8" preserveAspectRatio="none" overflow="hidden">
<rect width="63" height="47.8" fill="#171717"/>
<g filter="url(#grain1)">
<rect width="63" height="47.8" fill="#171717"/>
<rect y="0" width="63" height="17" fill="#343434" opacity="0.75"/>
<ellipse cx="12" cy="30" rx="13" ry="8.5" fill="#343434"/>
<ellipse cx="51" cy="29" rx="12" ry="9.5" fill="#343434"/>
<path d="M2,26 C10,24 18,27 24,33 M1,33 C8,31 16,33 22,38 M40,28 C46,25 54,27 61,33 M41,35 C48,32 55,34 62,38 M2,15 C10,14 16,15 21,17 M44,16 C50,16 56,17 62,19" stroke="#404040" stroke-width="1.6" fill="none"/>
<ellipse cx="31.5" cy="41" rx="11" ry="3" fill="#343434" opacity="0.5"/>
<rect y="37.5" width="63" height="6.5" fill="#0c0c0c" opacity="0.7"/>
<rect y="44" width="63" height="3.8" fill="#2c2c2c"/>
</g>
<ellipse cx="32" cy="17" rx="5.6" ry="3.8" fill="#0b0b0b"/>
<path d="M26.5,18 L37.5,18 L31.2,25Z" fill="#101010"/>
<g transform="translate(0,-1)">
<path d="M22.3,9 C22,4.5 25,2.2 28,2.2 C30,2.2 31.5,3 32.3,3.6 C33.2,3 35,2.2 37,2.2 C40,2.2 42.3,4.5 42,9 C41.8,12 40.8,14 39.5,15.8 L37.2,16 C36,14.8 34,14.4 32.3,14.4 C30.5,14.4 28.6,14.8 27.4,16 L25,15.8 C23.5,14 22.4,12 22.3,9Z" fill="#e4e4e4"/>
<path d="M24.2,8.8 C24.2,5.6 26,4 28,4 C30,4 31.5,4.8 32.3,5.4 C33,4.8 35,4 36.6,4 C38.8,4 40.2,5.6 40.1,8.8 C40,11.3 39,12.8 37.5,13.1 C36,12.6 34,12.4 32.3,12.4 C30.5,12.4 28.5,12.6 27,13.1 C25.5,12.8 24.3,11.3 24.2,8.8Z" fill="#ababab"/>
<ellipse cx="32.3" cy="8.2" rx="5" ry="2.4" fill="#b4b4b4" opacity="0.55"/>
<path d="M1.5,9 C1.3,6 3,4.8 5.5,5 C9,5.4 12,5.8 16,5.5 C19,5.3 22,5 24,5.5 L24,9.2 C20,9.3 16,9.6 12,10.2 C9,10.7 7,11.8 5,12 C2.8,12.2 1.6,11 1.5,9Z" fill="#e4e4e4"/>
<path d="M3.2,8.9 C3.2,7.2 4.5,6.5 6,6.6 C9,6.9 12,7 16,6.7 C19,6.5 21.5,6.3 23,6.6 L23,8.2 C20,8.3 16,8.6 12,9.2 C9,9.7 7,10.6 5.2,10.8 C3.9,10.9 3.2,10.1 3.2,8.9Z" fill="#7a7a7a"/>
<path d="M40.2,7.2 C45,7 50,8.2 54.5,9.2 C58,9.9 60.7,10.8 60.6,12.8 C60.5,14.6 58.5,15 56.5,14.4 C52,13.2 46,12.3 40.5,12Z" fill="#e4e4e4"/>
<path d="M41.5,8.4 C45.5,8.3 50,9.3 54.3,10.3 C57.5,11 59.3,11.6 59.2,12.8 C59.1,13.8 57.8,13.8 56.3,13.4 C52,12.3 46,11.4 41.5,11Z" fill="#7a7a7a"/>
</g>
<path d="M21.4,14.6 C24,18.5 27.5,22.5 30.6,25.8 M42.6,15.2 C39,19 35.5,22.5 31.6,25.8 M31.1,24.5 L30.9,36.6" stroke="#e4e4e4" stroke-width="3.4" fill="none" stroke-linecap="round"/>
<path d="M31,27 L31,35" stroke="#777" stroke-width="0.5"/>
<path d="M4,16.8 L11.2,16.6 L8.8,19.6Z" fill="#e4e4e4"/>
<circle cx="14.6" cy="19.8" r="3.2" fill="#8a8a8a" stroke="#d0d0d0" stroke-width="0.9"/>
<ellipse cx="48.6" cy="22.4" rx="2.5" ry="2.8" fill="#6a6a6a" stroke="#a8a8a8" stroke-width="0.7"/>
<rect y="46.9" width="63" height="0.9" fill="#6a6a6a"/>
</svg>
<path d="M160.6,145.5V192.8" fill="none" stroke="#8a8a8a" stroke-width="0.8"/>
<path d="M97.5,192.25H161" fill="none" stroke="#6a6a6a" stroke-width="1.1"/>
<text x="98.7" y="186.4" font-size="10.6" fill="#eee">(d2)</text>
<svg x="162.5" y="145.5" width="63.5" height="47.3" viewBox="0 0 63 47.8" preserveAspectRatio="none" overflow="hidden">
<rect width="63" height="47.8" fill="#171717"/>
<g filter="url(#grain1)">
<rect width="63" height="47.8" fill="#171717"/>
<rect y="0" width="63" height="17" fill="#343434" opacity="0.75"/>
<ellipse cx="12" cy="30" rx="13" ry="8.5" fill="#343434"/>
<ellipse cx="51" cy="29" rx="12" ry="9.5" fill="#343434"/>
<path d="M2,26 C10,24 18,27 24,33 M1,33 C8,31 16,33 22,38 M40,28 C46,25 54,27 61,33 M41,35 C48,32 55,34 62,38 M2,15 C10,14 16,15 21,17 M44,16 C50,16 56,17 62,19" stroke="#404040" stroke-width="1.6" fill="none"/>
<ellipse cx="31.5" cy="41" rx="11" ry="3" fill="#343434" opacity="0.5"/>
<rect y="37.5" width="63" height="6.5" fill="#0c0c0c" opacity="0.7"/>
<rect y="44" width="63" height="3.8" fill="#2c2c2c"/>
</g>
<ellipse cx="32" cy="17" rx="5.6" ry="3.8" fill="#0b0b0b"/>
<path d="M26.5,18 L37.5,18 L31.2,25Z" fill="#101010"/>
<g transform="translate(0,-1)">
<path d="M22.3,9 C22,4.5 25,2.2 28,2.2 C30,2.2 31.5,3 32.3,3.6 C33.2,3 35,2.2 37,2.2 C40,2.2 42.3,4.5 42,9 C41.8,12 40.8,14 39.5,15.8 L37.2,16 C36,14.8 34,14.4 32.3,14.4 C30.5,14.4 28.6,14.8 27.4,16 L25,15.8 C23.5,14 22.4,12 22.3,9Z" fill="#e4e4e4"/>
<path d="M24.2,8.8 C24.2,5.6 26,4 28,4 C30,4 31.5,4.8 32.3,5.4 C33,4.8 35,4 36.6,4 C38.8,4 40.2,5.6 40.1,8.8 C40,11.3 39,12.8 37.5,13.1 C36,12.6 34,12.4 32.3,12.4 C30.5,12.4 28.5,12.6 27,13.1 C25.5,12.8 24.3,11.3 24.2,8.8Z" fill="#ababab"/>
<ellipse cx="32.3" cy="8.2" rx="5" ry="2.4" fill="#b4b4b4" opacity="0.55"/>
<path d="M1.5,9 C1.3,6 3,4.8 5.5,5 C9,5.4 12,5.8 16,5.5 C19,5.3 22,5 24,5.5 L24,9.2 C20,9.3 16,9.6 12,10.2 C9,10.7 7,11.8 5,12 C2.8,12.2 1.6,11 1.5,9Z" fill="#e4e4e4"/>
<path d="M3.2,8.9 C3.2,7.2 4.5,6.5 6,6.6 C9,6.9 12,7 16,6.7 C19,6.5 21.5,6.3 23,6.6 L23,8.2 C20,8.3 16,8.6 12,9.2 C9,9.7 7,10.6 5.2,10.8 C3.9,10.9 3.2,10.1 3.2,8.9Z" fill="#7a7a7a"/>
<path d="M40.2,7.2 C45,7 50,8.2 54.5,9.2 C58,9.9 60.7,10.8 60.6,12.8 C60.5,14.6 58.5,15 56.5,14.4 C52,13.2 46,12.3 40.5,12Z" fill="#e4e4e4"/>
<path d="M41.5,8.4 C45.5,8.3 50,9.3 54.3,10.3 C57.5,11 59.3,11.6 59.2,12.8 C59.1,13.8 57.8,13.8 56.3,13.4 C52,12.3 46,11.4 41.5,11Z" fill="#7a7a7a"/>
</g>
<path d="M21.4,14.6 C24,18.5 27.5,22.5 30.6,25.8 M42.6,15.2 C39,19 35.5,22.5 31.6,25.8 M31.1,24.5 L30.9,36.6" stroke="#e4e4e4" stroke-width="3.4" fill="none" stroke-linecap="round"/>
<path d="M31,27 L31,35" stroke="#777" stroke-width="0.5"/>
<path d="M4,16.8 L11.2,16.6 L8.8,19.6Z" fill="#e4e4e4"/>
<circle cx="14.6" cy="19.8" r="3.2" fill="#8a8a8a" stroke="#d0d0d0" stroke-width="0.9"/>
<ellipse cx="48.6" cy="22.4" rx="2.5" ry="2.8" fill="#6a6a6a" stroke="#a8a8a8" stroke-width="0.7"/>
<rect y="46.9" width="63" height="0.9" fill="#6a6a6a"/>
</svg>
<path d="M225.6,145.5V192.8" fill="none" stroke="#8a8a8a" stroke-width="0.8"/>
<path d="M162.5,192.25H226" fill="none" stroke="#6a6a6a" stroke-width="1.1"/>
<text x="163.7" y="186.4" font-size="10.6" fill="#eee">(d3)</text>
<svg x="226.5" y="145.5" width="64.5" height="47.3" viewBox="0 0 63 47.8" preserveAspectRatio="none" overflow="hidden">
<rect x="0.8" y="0.8" width="61.4" height="45.5" fill="#f2ecf2" filter="url(#pz4)"/>
<rect x="0.8" y="0.8" width="61.4" height="45.5" fill="#000" filter="url(#bz4)"/>
<rect x="0.8" y="0.8" width="61.4" height="45.5" fill="#000" filter="url(#r4)"/>
<g fill="none" stroke="#000" stroke-width="1.9" stroke-linecap="round" stroke-linejoin="round" filter="url(#ra4)" transform="translate(1.2,1.4)"><path d="M22.3,9 C22,4.5 25,2.2 28,2.2 C30,2.2 31.5,3 32.3,3.6 C33.2,3 35,2.2 37,2.2 C40,2.2 42.3,4.5 42,9 C41.8,12 40.8,14 39.5,15.8 L37.2,16 C36,14.8 34,14.4 32.3,14.4 C30.5,14.4 28.6,14.8 27.4,16 L25,15.8 C23.5,14 22.4,12 22.3,9Z"/><path d="M1.5,9 C1.3,6 3,4.8 5.5,5 C9,5.4 12,5.8 16,5.5 C19,5.3 22,5 24,5.5 L24,9.2 C20,9.3 16,9.6 12,10.2 C9,10.7 7,11.8 5,12 C2.8,12.2 1.6,11 1.5,9Z"/><path d="M40.2,7.2 C45,7 50,8.2 54.5,9.2 C58,9.9 60.7,10.8 60.6,12.8 C60.5,14.6 58.5,15 56.5,14.4 C52,13.2 46,12.3 40.5,12Z"/><path d="M21.4,14.6 C24,18.5 27.5,22.5 30.6,25.8 M42.6,15.2 C39,19 35.5,22.5 31.6,25.8 M31.1,24.5 L30.9,36.6"/><circle cx="15" cy="21.8" r="3.1"/><circle cx="49.2" cy="24" r="2.4"/></g>
<g fill="none" stroke="#000" stroke-width="1.9" stroke-linecap="round" stroke-linejoin="round" filter="url(#a4)"><path d="M22.3,9 C22,4.5 25,2.2 28,2.2 C30,2.2 31.5,3 32.3,3.6 C33.2,3 35,2.2 37,2.2 C40,2.2 42.3,4.5 42,9 C41.8,12 40.8,14 39.5,15.8 L37.2,16 C36,14.8 34,14.4 32.3,14.4 C30.5,14.4 28.6,14.8 27.4,16 L25,15.8 C23.5,14 22.4,12 22.3,9Z"/><path d="M1.5,9 C1.3,6 3,4.8 5.5,5 C9,5.4 12,5.8 16,5.5 C19,5.3 22,5 24,5.5 L24,9.2 C20,9.3 16,9.6 12,10.2 C9,10.7 7,11.8 5,12 C2.8,12.2 1.6,11 1.5,9Z"/><path d="M40.2,7.2 C45,7 50,8.2 54.5,9.2 C58,9.9 60.7,10.8 60.6,12.8 C60.5,14.6 58.5,15 56.5,14.4 C52,13.2 46,12.3 40.5,12Z"/><path d="M21.4,14.6 C24,18.5 27.5,22.5 30.6,25.8 M42.6,15.2 C39,19 35.5,22.5 31.6,25.8 M31.1,24.5 L30.9,36.6"/><circle cx="15" cy="21.8" r="3.1"/><circle cx="49.2" cy="24" r="2.4"/></g>
<path d="M61.3,13 L61.5,24" stroke="#f01010" stroke-width="1.3"/>
<path d="M22.5,14.5 Q25,16.5 27.5,16.8 M40.5,7.2 C45,7 50,8.2 54.5,9.2 M37,16.5 L39.5,15.8" stroke="#f01010" stroke-width="0.9" fill="none" opacity="0.9"/>
</svg>
<text x="227.7" y="186.4" font-size="10.6" fill="#111" stroke="#111" stroke-width="0.25">(d4)</text>
<svg x="292" y="145.5" width="63.5" height="47.3" viewBox="0 0 63 47.8" preserveAspectRatio="none" overflow="hidden">
<rect width="63" height="47.8" fill="#171717"/>
<g filter="url(#grain1)">
<rect width="63" height="47.8" fill="#171717"/>
<rect y="0" width="63" height="17" fill="#303030" opacity="0.75"/>
<ellipse cx="12" cy="30" rx="13" ry="8.5" fill="#303030"/>
<ellipse cx="51" cy="29" rx="12" ry="9.5" fill="#303030"/>
<path d="M2,26 C10,24 18,27 24,33 M1,33 C8,31 16,33 22,38 M40,28 C46,25 54,27 61,33 M41,35 C48,32 55,34 62,38 M2,15 C10,14 16,15 21,17 M44,16 C50,16 56,17 62,19" stroke="#404040" stroke-width="1.6" fill="none"/>
<ellipse cx="31.5" cy="41" rx="11" ry="3" fill="#303030" opacity="0.5"/>
<rect y="37.5" width="63" height="6.5" fill="#4a4a4a" opacity="0.7"/>
<rect y="44" width="63" height="3.8" fill="#2c2c2c"/>
</g>
<ellipse cx="32" cy="17" rx="5.6" ry="3.8" fill="#0b0b0b"/>
<path d="M26.5,18 L37.5,18 L31.2,25Z" fill="#101010"/>
<g transform="translate(0,-1)">
<path d="M22.3,9 C22,4.5 25,2.2 28,2.2 C30,2.2 31.5,3 32.3,3.6 C33.2,3 35,2.2 37,2.2 C40,2.2 42.3,4.5 42,9 C41.8,12 40.8,14 39.5,15.8 L37.2,16 C36,14.8 34,14.4 32.3,14.4 C30.5,14.4 28.6,14.8 27.4,16 L25,15.8 C23.5,14 22.4,12 22.3,9Z" fill="#f0f0f0"/>
<path d="M24.2,8.8 C24.2,5.6 26,4 28,4 C30,4 31.5,4.8 32.3,5.4 C33,4.8 35,4 36.6,4 C38.8,4 40.2,5.6 40.1,8.8 C40,11.3 39,12.8 37.5,13.1 C36,12.6 34,12.4 32.3,12.4 C30.5,12.4 28.5,12.6 27,13.1 C25.5,12.8 24.3,11.3 24.2,8.8Z" fill="#d0d0d0"/>
<ellipse cx="32.3" cy="8.2" rx="5" ry="2.4" fill="#b4b4b4" opacity="0.55"/>
<path d="M1.5,9 C1.3,6 3,4.8 5.5,5 C9,5.4 12,5.8 16,5.5 C19,5.3 22,5 24,5.5 L24,9.2 C20,9.3 16,9.6 12,10.2 C9,10.7 7,11.8 5,12 C2.8,12.2 1.6,11 1.5,9Z" fill="#f0f0f0"/>
<path d="M3.2,8.9 C3.2,7.2 4.5,6.5 6,6.6 C9,6.9 12,7 16,6.7 C19,6.5 21.5,6.3 23,6.6 L23,8.2 C20,8.3 16,8.6 12,9.2 C9,9.7 7,10.6 5.2,10.8 C3.9,10.9 3.2,10.1 3.2,8.9Z" fill="#7a7a7a"/>
<path d="M40.2,7.2 C45,7 50,8.2 54.5,9.2 C58,9.9 60.7,10.8 60.6,12.8 C60.5,14.6 58.5,15 56.5,14.4 C52,13.2 46,12.3 40.5,12Z" fill="#f0f0f0"/>
<path d="M41.5,8.4 C45.5,8.3 50,9.3 54.3,10.3 C57.5,11 59.3,11.6 59.2,12.8 C59.1,13.8 57.8,13.8 56.3,13.4 C52,12.3 46,11.4 41.5,11Z" fill="#7a7a7a"/>
</g>
<path d="M21.4,14.6 C24,18.5 27.5,22.5 30.6,25.8 M42.6,15.2 C39,19 35.5,22.5 31.6,25.8 M31.1,24.5 L30.9,36.6" stroke="#f0f0f0" stroke-width="3.4" fill="none" stroke-linecap="round"/>
<path d="M31,27 L31,35" stroke="#777" stroke-width="0.5"/>
<path d="M4,16.8 L11.2,16.6 L8.8,19.6Z" fill="#f0f0f0"/>
<circle cx="14.6" cy="19.8" r="3.2" fill="#8a8a8a" stroke="#d0d0d0" stroke-width="0.9"/>
<ellipse cx="48.6" cy="22.4" rx="2.5" ry="2.8" fill="#6a6a6a" stroke="#a8a8a8" stroke-width="0.7"/>
<rect y="46.9" width="63" height="0.9" fill="#6a6a6a"/>
</svg>
<path d="M355.1,145.5V192.8" fill="none" stroke="#8a8a8a" stroke-width="0.8"/>
<path d="M292,192.25H355.5" fill="none" stroke="#6a6a6a" stroke-width="1.1"/>
<text x="293.2" y="186.4" font-size="10.6" fill="#eee">(d5)</text>
<svg x="356" y="145.5" width="65.8" height="47.3" viewBox="0 0 63 47.8" preserveAspectRatio="none" overflow="hidden">
<rect x="0.8" y="0.8" width="61.4" height="45.5" fill="#f2ecf2" filter="url(#pz6)"/>
<rect x="0.8" y="0.8" width="61.4" height="45.5" fill="#000" filter="url(#bz6)"/>
<rect x="0.8" y="0.8" width="61.4" height="45.5" fill="#000" filter="url(#r6)"/>
<g fill="none" stroke="#000" stroke-width="1.5" stroke-linecap="round" stroke-linejoin="round" filter="url(#a6)"><path d="M22.3,9 C22,4.5 25,2.2 28,2.2 C30,2.2 31.5,3 32.3,3.6 C33.2,3 35,2.2 37,2.2 C40,2.2 42.3,4.5 42,9 C41.8,12 40.8,14 39.5,15.8 L37.2,16 C36,14.8 34,14.4 32.3,14.4 C30.5,14.4 28.6,14.8 27.4,16 L25,15.8 C23.5,14 22.4,12 22.3,9Z"/><path d="M1.5,9 C1.3,6 3,4.8 5.5,5 C9,5.4 12,5.8 16,5.5 C19,5.3 22,5 24,5.5 L24,9.2 C20,9.3 16,9.6 12,10.2 C9,10.7 7,11.8 5,12 C2.8,12.2 1.6,11 1.5,9Z"/><path d="M40.2,7.2 C45,7 50,8.2 54.5,9.2 C58,9.9 60.7,10.8 60.6,12.8 C60.5,14.6 58.5,15 56.5,14.4 C52,13.2 46,12.3 40.5,12Z"/><path d="M21.4,14.6 C24,18.5 27.5,22.5 30.6,25.8 M42.6,15.2 C39,19 35.5,22.5 31.6,25.8 M31.1,24.5 L30.9,36.6"/><circle cx="15" cy="21.8" r="3.1"/><circle cx="49.2" cy="24" r="2.4"/></g>
<g fill="#000" filter="url(#f6)"><path d="M22.5,16 L42,16.8 L31.8,31 L31.8,37 L30.2,37 L30.4,31Z"/></g>
<path d="M61.3,13 L61.5,24" stroke="#f01010" stroke-width="1.3"/>
<path d="M22.5,14.5 Q25,16.5 27.5,16.8 M40.5,7.2 C45,7 50,8.2 54.5,9.2 M37,16.5 L39.5,15.8" stroke="#f01010" stroke-width="0.9" fill="none" opacity="0.9"/>
</svg>
<text x="357.2" y="186.4" font-size="10.6" fill="#111" stroke="#111" stroke-width="0.25">(d6)</text>
<svg x="422.5" y="145.5" width="63.8" height="47.3" viewBox="0 0 63 47.8" preserveAspectRatio="none" overflow="hidden">
<rect width="63" height="47.8" fill="#202020"/>
<g filter="url(#grain2)">
<rect width="63" height="47.8" fill="#202020"/>
<rect y="0" width="63" height="17" fill="#484848" opacity="0.75"/>
<ellipse cx="12" cy="30" rx="13" ry="8.5" fill="#484848"/>
<ellipse cx="51" cy="29" rx="12" ry="9.5" fill="#484848"/>
<path d="M2,26 C10,24 18,27 24,33 M1,33 C8,31 16,33 22,38 M40,28 C46,25 54,27 61,33 M41,35 C48,32 55,34 62,38 M2,15 C10,14 16,15 21,17 M44,16 C50,16 56,17 62,19" stroke="#606060" stroke-width="1.6" fill="none"/>
<ellipse cx="31.5" cy="41" rx="11" ry="3" fill="#484848" opacity="0.5"/>
<rect y="37.5" width="63" height="6.5" fill="#0c0c0c" opacity="0.7"/>
<rect y="44" width="63" height="3.8" fill="#2c2c2c"/>
</g>
<ellipse cx="32" cy="17" rx="5.6" ry="3.8" fill="#0b0b0b"/>
<path d="M26.5,18 L37.5,18 L31.2,25Z" fill="#101010"/>
<g transform="translate(0,-1)">
<path d="M22.3,9 C22,4.5 25,2.2 28,2.2 C30,2.2 31.5,3 32.3,3.6 C33.2,3 35,2.2 37,2.2 C40,2.2 42.3,4.5 42,9 C41.8,12 40.8,14 39.5,15.8 L37.2,16 C36,14.8 34,14.4 32.3,14.4 C30.5,14.4 28.6,14.8 27.4,16 L25,15.8 C23.5,14 22.4,12 22.3,9Z" fill="#f6f6f6"/>
<path d="M24.2,8.8 C24.2,5.6 26,4 28,4 C30,4 31.5,4.8 32.3,5.4 C33,4.8 35,4 36.6,4 C38.8,4 40.2,5.6 40.1,8.8 C40,11.3 39,12.8 37.5,13.1 C36,12.6 34,12.4 32.3,12.4 C30.5,12.4 28.5,12.6 27,13.1 C25.5,12.8 24.3,11.3 24.2,8.8Z" fill="#dcdcdc"/>
<ellipse cx="32.3" cy="8.2" rx="5" ry="2.4" fill="#b4b4b4" opacity="0.55"/>
<path d="M1.5,9 C1.3,6 3,4.8 5.5,5 C9,5.4 12,5.8 16,5.5 C19,5.3 22,5 24,5.5 L24,9.2 C20,9.3 16,9.6 12,10.2 C9,10.7 7,11.8 5,12 C2.8,12.2 1.6,11 1.5,9Z" fill="#f6f6f6"/>
<path d="M3.2,8.9 C3.2,7.2 4.5,6.5 6,6.6 C9,6.9 12,7 16,6.7 C19,6.5 21.5,6.3 23,6.6 L23,8.2 C20,8.3 16,8.6 12,9.2 C9,9.7 7,10.6 5.2,10.8 C3.9,10.9 3.2,10.1 3.2,8.9Z" fill="#7a7a7a"/>
<path d="M40.2,7.2 C45,7 50,8.2 54.5,9.2 C58,9.9 60.7,10.8 60.6,12.8 C60.5,14.6 58.5,15 56.5,14.4 C52,13.2 46,12.3 40.5,12Z" fill="#f6f6f6"/>
<path d="M41.5,8.4 C45.5,8.3 50,9.3 54.3,10.3 C57.5,11 59.3,11.6 59.2,12.8 C59.1,13.8 57.8,13.8 56.3,13.4 C52,12.3 46,11.4 41.5,11Z" fill="#7a7a7a"/>
</g>
<path d="M21.4,14.6 C24,18.5 27.5,22.5 30.6,25.8 M42.6,15.2 C39,19 35.5,22.5 31.6,25.8 M31.1,24.5 L30.9,36.6" stroke="#f6f6f6" stroke-width="3.4" fill="none" stroke-linecap="round"/>
<path d="M31,27 L31,35" stroke="#777" stroke-width="0.5"/>
<path d="M4,16.8 L11.2,16.6 L8.8,19.6Z" fill="#f6f6f6"/>
<circle cx="14.6" cy="19.8" r="3.2" fill="#8a8a8a" stroke="#d0d0d0" stroke-width="0.9"/>
<ellipse cx="48.6" cy="22.4" rx="2.5" ry="2.8" fill="#6a6a6a" stroke="#a8a8a8" stroke-width="0.7"/>
<rect y="46.9" width="63" height="0.9" fill="#6a6a6a"/>
</svg>
<path d="M485.9,145.5V192.8" fill="none" stroke="#8a8a8a" stroke-width="0.8"/>
<path d="M422.5,192.25H486.3" fill="none" stroke="#6a6a6a" stroke-width="1.1"/>
<text x="423.7" y="186.4" font-size="10.6" fill="#eee">(d7)</text>
<svg x="487" y="145.5" width="64.5" height="47.3" viewBox="0 0 63 47.8" preserveAspectRatio="none" overflow="hidden">
<rect x="0.8" y="0.8" width="61.4" height="45.5" fill="#f2ecf2" filter="url(#pz8)"/>
<rect x="0.8" y="0.8" width="61.4" height="45.5" fill="#000" filter="url(#bzd8)"/>
<rect x="0.8" y="0.8" width="61.4" height="45.5" fill="#000" filter="url(#r8)"/>
<g fill="none" stroke="#000" stroke-width="2.6" stroke-linecap="round" stroke-linejoin="round" filter="url(#a8)"><path d="M22.3,9 C22,4.5 25,2.2 28,2.2 C30,2.2 31.5,3 32.3,3.6 C33.2,3 35,2.2 37,2.2 C40,2.2 42.3,4.5 42,9 C41.8,12 40.8,14 39.5,15.8 L37.2,16 C36,14.8 34,14.4 32.3,14.4 C30.5,14.4 28.6,14.8 27.4,16 L25,15.8 C23.5,14 22.4,12 22.3,9Z"/><path d="M1.5,9 C1.3,6 3,4.8 5.5,5 C9,5.4 12,5.8 16,5.5 C19,5.3 22,5 24,5.5 L24,9.2 C20,9.3 16,9.6 12,10.2 C9,10.7 7,11.8 5,12 C2.8,12.2 1.6,11 1.5,9Z"/><path d="M40.2,7.2 C45,7 50,8.2 54.5,9.2 C58,9.9 60.7,10.8 60.6,12.8 C60.5,14.6 58.5,15 56.5,14.4 C52,13.2 46,12.3 40.5,12Z"/><path d="M21.4,14.6 C24,18.5 27.5,22.5 30.6,25.8 M42.6,15.2 C39,19 35.5,22.5 31.6,25.8 M31.1,24.5 L30.9,36.6"/><circle cx="15" cy="21.8" r="3.1"/><circle cx="49.2" cy="24" r="2.4"/></g>
<g fill="#000" filter="url(#f8)"><path d="M22.3,9 C22,4.5 25,2.2 28,2.2 C30,2.2 31.5,3 32.3,3.6 C33.2,3 35,2.2 37,2.2 C40,2.2 42.3,4.5 42,9 C41.8,12 40.8,14 39.5,15.8 L37.2,16 C36,14.8 34,14.4 32.3,14.4 C30.5,14.4 28.6,14.8 27.4,16 L25,15.8 C23.5,14 22.4,12 22.3,9Z"/><path d="M1.5,9 C1.3,6 3,4.8 5.5,5 C9,5.4 12,5.8 16,5.5 C19,5.3 22,5 24,5.5 L24,9.2 C20,9.3 16,9.6 12,10.2 C9,10.7 7,11.8 5,12 C2.8,12.2 1.6,11 1.5,9Z"/><path d="M40.2,7.2 C45,7 50,8.2 54.5,9.2 C58,9.9 60.7,10.8 60.6,12.8 C60.5,14.6 58.5,15 56.5,14.4 C52,13.2 46,12.3 40.5,12Z"/><path d="M21.5,16 L43,16.8 L31.8,31 L31.8,37 L30.2,37 L30.4,31Z"/><circle cx="15" cy="21.8" r="3.3"/><circle cx="49.2" cy="24" r="2.7"/></g>
<path d="M61.3,13 L61.5,24" stroke="#f01010" stroke-width="1.3"/>
<path d="M22.5,14.5 Q25,16.5 27.5,16.8 M40.5,7.2 C45,7 50,8.2 54.5,9.2 M37,16.5 L39.5,15.8" stroke="#f01010" stroke-width="0.9" fill="none" opacity="0.9"/>
</svg>
<text x="488.2" y="186.4" font-size="10.6" fill="#111" stroke="#111" stroke-width="0.25">(d8)</text>
<rect x="553.2" y="20.5" width="3" height="122.3" fill="url(#cbar)"/>
<text x="557.4" y="22.8" font-size="5.6" fill="#333" font-family="Liberation Sans, Arial, sans-serif">200</text>
<text x="557.4" y="38.05" font-size="5.6" fill="#333" font-family="Liberation Sans, Arial, sans-serif">150</text>
<text x="557.4" y="53.3" font-size="5.6" fill="#333" font-family="Liberation Sans, Arial, sans-serif">100</text>
<text x="557.4" y="68.55" font-size="5.6" fill="#333" font-family="Liberation Sans, Arial, sans-serif">50</text>
<text x="557.4" y="83.8" font-size="5.6" fill="#333" font-family="Liberation Sans, Arial, sans-serif">0</text>
<text x="557.4" y="99.05" font-size="5.6" fill="#333" font-family="Liberation Sans, Arial, sans-serif">-50</text>
<text x="557.4" y="114.3" font-size="5.6" fill="#333" font-family="Liberation Sans, Arial, sans-serif">-100</text>
<text x="557.4" y="129.55" font-size="5.6" fill="#333" font-family="Liberation Sans, Arial, sans-serif">-150</text>
<text x="557.4" y="144.8" font-size="5.6" fill="#333" font-family="Liberation Sans, Arial, sans-serif">-200</text>
<text transform="translate(569.6,81.3) rotate(90)" font-size="5.6" text-anchor="middle" fill="#333" font-family="Liberation Sans, Arial, sans-serif">HU</text>
<rect x="33" y="193.3" width="260.5" height="125.5" fill="#000"/>
<path d="M55.2,196.8V298.7H284.8" fill="none" stroke="#a8a8a8" stroke-width="1"/>
<text x="50.6" y="199.1" font-size="5.3" text-anchor="end" fill="#ddd">1400</text>
<text x="50.6" y="211.83" font-size="5.3" text-anchor="end" fill="#ddd">1200</text>
<text x="50.6" y="224.56" font-size="5.3" text-anchor="end" fill="#ddd">1000</text>
<text x="50.6" y="237.29" font-size="5.3" text-anchor="end" fill="#ddd">800</text>
<text x="50.6" y="250.02" font-size="5.3" text-anchor="end" fill="#ddd">600</text>
<text x="50.6" y="262.75" font-size="5.3" text-anchor="end" fill="#ddd">400</text>
<text x="50.6" y="275.48" font-size="5.3" text-anchor="end" fill="#ddd">200</text>
<text x="50.6" y="288.21" font-size="5.3" text-anchor="end" fill="#ddd">0</text>
<text x="50.6" y="300.94" font-size="5.3" text-anchor="end" fill="#ddd">-200</text>
<text x="54.4" y="307.3" font-size="5.3" text-anchor="middle" fill="#ddd">0</text>
<text x="80" y="307.3" font-size="5.3" text-anchor="middle" fill="#ddd">5</text>
<text x="105.6" y="307.3" font-size="5.3" text-anchor="middle" fill="#ddd">10</text>
<text x="131.2" y="307.3" font-size="5.3" text-anchor="middle" fill="#ddd">15</text>
<text x="156.8" y="307.3" font-size="5.3" text-anchor="middle" fill="#ddd">20</text>
<text x="182.4" y="307.3" font-size="5.3" text-anchor="middle" fill="#ddd">25</text>
<text x="208" y="307.3" font-size="5.3" text-anchor="middle" fill="#ddd">30</text>
<text x="233.6" y="307.3" font-size="5.3" text-anchor="middle" fill="#ddd">35</text>
<text x="259.2" y="307.3" font-size="5.3" text-anchor="middle" fill="#ddd">40</text>
<text x="284.8" y="307.3" font-size="5.3" text-anchor="middle" fill="#ddd">45</text>
<text x="169.5" y="315.4" font-size="4.6" font-weight="bold" text-anchor="middle" fill="#ddd">VOXEL</text>
<text transform="translate(38.2,249) rotate(-90)" font-size="5" font-weight="bold" text-anchor="middle" fill="#ddd" textLength="38" lengthAdjust="spacingAndGlyphs">CT NUMBER (HU)</text>
<text x="151" y="205.3" font-size="9.2" font-weight="bold" fill="#fff">H-CT</text>
<text x="257.8" y="205.6" font-size="10" font-weight="bold" fill="#f4f4f4">(e1)</text>
<path d="M58.4,217H73.2" stroke="#e8dc00" stroke-width="1.4"/>
<text x="74.5" y="218.8" font-size="5.4" font-weight="bold" fill="#ddd">Proposed</text>
<path d="M58.4,227.3H73.2" stroke="#e00000" stroke-width="1.4" stroke-dasharray="1.9 1.2"/>
<text x="74.5" y="229.1" font-size="5.4" font-weight="bold" fill="#ddd">Ground Truth</text>
<path d="M58.4,237.9H73.2" stroke="#27488c" stroke-width="1.4"/>
<text x="74.5" y="239.7" font-size="5.4" font-weight="bold" fill="#ddd">Pix2PixGAN</text>
<path d="M58.4,248.4H73.2" stroke="#8ea47a" stroke-width="1.4"/>
<text x="74.5" y="250.2" font-size="5.4" font-weight="bold" fill="#ddd">CNN</text>
<path d="M59.9,292.7C63.17,292.7 74.32,294.03 79.5,292.7C84.68,291.37 87.78,286.28 91,284.7C94.22,283.12 96.48,283.72 98.8,283.2C101.12,282.68 103.37,283.3 104.9,281.6C106.43,279.9 107.12,276.25 108,273C108.88,269.75 109.55,265.92 110.2,262.1C110.85,258.28 111.18,255.62 111.9,250.1C112.62,244.58 113.65,234.35 114.5,229C115.35,223.65 116.3,219.7 117,218C117.7,216.3 117.85,217.25 118.7,218.8C119.55,220.35 120.97,224.47 122.1,227.3C123.23,230.13 124.5,233.75 125.5,235.8C126.5,237.85 127.25,238.8 128.1,239.6C128.95,240.4 129.75,239.82 130.6,240.6C131.45,241.38 132.48,242.72 133.2,244.3C133.92,245.88 134.33,248.27 134.9,250.1C135.47,251.93 135.9,255.57 136.6,255.3C137.3,255.03 138.4,251.05 139.1,248.5C139.8,245.95 140.08,244.1 140.8,240C141.52,235.9 142.55,228 143.4,223.9C144.25,219.8 145.05,217.23 145.9,215.4C146.75,213.57 147.65,213.03 148.5,212.9C149.35,212.77 150.02,213.05 151,214.6C151.98,216.15 153.27,219.52 154.4,222.2C155.53,224.88 156.57,227.58 157.8,230.7C159.03,233.82 160.43,238.1 161.8,240.9C163.17,243.7 164.3,245.98 166,247.5C167.7,249.02 170.17,249.7 172,250C173.83,250.3 175.42,249.88 177,249.3C178.58,248.72 180.07,247.22 181.5,246.5C182.93,245.78 184.35,244.92 185.6,245C186.85,245.08 188,246 189,247C190,248 190.75,249.9 191.6,251C192.45,252.1 193.12,253.58 194.1,253.6C195.08,253.62 196.52,252.78 197.5,251.1C198.48,249.42 199,247.18 200,243.5C201,239.82 202.35,233.12 203.5,229C204.65,224.88 205.82,221.23 206.9,218.8C207.98,216.37 209.1,215.2 210,214.4C210.9,213.6 211.55,213.8 212.3,214C213.05,214.2 213.72,214.52 214.5,215.6C215.28,216.68 216.22,218.52 217,220.5C217.78,222.48 218.48,224.58 219.2,227.5C219.92,230.42 220.67,234.72 221.3,238C221.93,241.28 222.38,244.12 223,247.2C223.62,250.28 224.38,254.5 225,256.5C225.62,258.5 226.02,259.42 226.7,259.2C227.38,258.98 228.2,258.55 229.1,255.2C230,251.85 231.1,243.45 232.1,239.1C233.1,234.75 234.03,231.35 235.1,229.1C236.17,226.85 237.43,226.27 238.5,225.6C239.57,224.93 240.38,224.68 241.5,225.1C242.62,225.52 243.92,226.43 245.2,228.1C246.48,229.77 247.98,232.53 249.2,235.1C250.42,237.67 251.48,240.98 252.5,243.5C253.52,246.02 253.98,247.38 255.3,250.2C256.62,253.02 258.7,257 260.4,260.4C262.1,263.8 263.93,267.48 265.5,270.6C267.07,273.72 268.52,276.83 269.8,279.1C271.08,281.37 272.07,283.12 273.2,284.2C274.33,285.28 275.18,285.37 276.6,285.6C278.02,285.83 280.15,285.4 281.7,285.6C283.25,285.8 285.2,286.6 285.9,286.8" fill="none" stroke="#8ea47a" stroke-width="1.2"/>
<path d="M59.9,292.7C63.17,292.7 74.57,294.28 79.5,292.7C84.43,291.12 86.8,285.43 89.5,283.2C92.2,280.97 93.9,279.57 95.7,279.3C97.5,279.03 98.73,281.4 100.3,281.6C101.87,281.8 103.73,281.77 105.1,280.5C106.47,279.23 107.37,277.92 108.5,274C109.63,270.08 111.05,262.17 111.9,257C112.75,251.83 113.08,246.67 113.6,243C114.12,239.33 114.57,236.87 115,235C115.43,233.13 115.72,232.08 116.2,231.8C116.68,231.52 117.33,231.78 117.9,233.3C118.47,234.82 118.9,238.28 119.6,240.9C120.3,243.52 121.12,247.87 122.1,249C123.08,250.13 124.22,247.5 125.5,247.7C126.78,247.9 128.52,249.5 129.8,250.2C131.08,250.9 132.07,252.03 133.2,251.9C134.33,251.77 135.62,251.1 136.6,249.4C137.58,247.7 138.45,243.93 139.1,241.7C139.75,239.47 139.93,237.95 140.5,236C141.07,234.05 141.88,231.27 142.5,230C143.12,228.73 143.48,228.28 144.2,228.4C144.92,228.52 145.95,229.18 146.8,230.7C147.65,232.22 148.6,235.37 149.3,237.5C150,239.63 150.43,241.67 151,243.5C151.57,245.33 151.85,246.67 152.7,248.5C153.55,250.33 154.88,252.8 156.1,254.5C157.32,256.2 158.77,257.57 160,258.7C161.23,259.83 161.92,260.73 163.5,261.3C165.08,261.87 167.8,261.68 169.5,262.1C171.2,262.52 172.43,262.57 173.7,263.8C174.97,265.03 176.1,268.37 177.1,269.5C178.1,270.63 178.57,270.83 179.7,270.6C180.83,270.37 182.48,268.67 183.9,268.1C185.32,267.53 186.92,266.92 188.2,267.2C189.48,267.48 190.47,269.23 191.6,269.8C192.73,270.37 193.87,270.75 195,270.6C196.13,270.45 197.27,270.03 198.4,268.9C199.53,267.77 200.67,266.63 201.8,263.8C202.93,260.97 204.3,255.87 205.2,251.9C206.1,247.93 206.5,243.32 207.2,240C207.9,236.68 208.6,233.92 209.4,232C210.2,230.08 211.15,229.2 212,228.5C212.85,227.8 213.55,227.38 214.5,227.8C215.45,228.22 216.78,229.13 217.7,231C218.62,232.87 219.28,236.17 220,239C220.72,241.83 221.28,245.33 222,248C222.72,250.67 223.6,253.42 224.3,255C225,256.58 225.42,257.75 226.2,257.5C226.98,257.25 227.95,255.58 229,253.5C230.05,251.42 231.33,247.33 232.5,245C233.67,242.67 234.83,240.78 236,239.5C237.17,238.22 238.42,237.52 239.5,237.3C240.58,237.08 241.55,237.42 242.5,238.2C243.45,238.98 244.4,239.7 245.2,242C246,244.3 246.47,247.52 247.3,252C248.13,256.48 248.87,265.23 250.2,268.9C251.53,272.57 253.6,272.43 255.3,274C257,275.57 258.7,276.73 260.4,278.3C262.1,279.87 263.8,282.27 265.5,283.4C267.2,284.53 269.03,284.82 270.6,285.1C272.17,285.38 273.62,285.82 274.9,285.1C276.18,284.38 277.17,282.02 278.3,280.8C279.43,279.58 280.65,278.3 281.7,277.8C282.75,277.3 283.9,277.63 284.6,277.8C285.3,277.97 285.68,278.63 285.9,278.8" fill="none" stroke="#27488c" stroke-width="1.3"/>
<path d="M59.9,292.7C63.17,292.7 75.33,293.43 79.5,292.7C83.67,291.97 82.98,289.88 84.9,288.3C86.82,286.72 88.68,283.67 91,283.2C93.32,282.73 96.6,284.73 98.8,285.5C101,286.27 102.67,288.32 104.2,287.8C105.73,287.28 106.72,286.4 108,282.4C109.28,278.4 110.82,268.88 111.9,263.8C112.98,258.72 113.78,254.68 114.5,251.9C115.22,249.12 115.63,247.38 116.2,247.1C116.77,246.82 117.33,248.27 117.9,250.2C118.47,252.13 119.03,256.15 119.6,258.7C120.17,261.25 120.6,264.22 121.3,265.5C122,266.78 122.95,266.53 123.8,266.4C124.65,266.27 125.55,264.7 126.4,264.7C127.25,264.7 127.92,265.42 128.9,266.4C129.88,267.38 131.17,269.47 132.3,270.6C133.43,271.73 134.7,273.2 135.7,273.2C136.7,273.2 137.3,272.73 138.3,270.6C139.3,268.47 140.57,263.65 141.7,260.4C142.83,257.15 144.12,253.37 145.1,251.1C146.08,248.83 146.75,247.37 147.6,246.8C148.45,246.23 149.2,246.57 150.2,247.7C151.2,248.83 152.42,251.47 153.6,253.6C154.78,255.73 155.93,258.23 157.3,260.5C158.67,262.77 160.2,266.22 161.8,267.2C163.4,268.18 165.2,266.97 166.9,266.4C168.6,265.83 170.3,264.65 172,263.8C173.7,262.95 175.4,261.87 177.1,261.3C178.8,260.73 180.5,260.27 182.2,260.4C183.9,260.53 185.73,261.25 187.3,262.1C188.87,262.95 190.32,264.5 191.6,265.5C192.88,266.5 193.87,267.82 195,268.1C196.13,268.38 197.27,268.05 198.4,267.2C199.53,266.35 200.53,264.83 201.8,263C203.07,261.17 204.68,257.9 206,256.2C207.32,254.5 208.45,252.87 209.7,252.8C210.95,252.73 212.32,253.93 213.5,255.8C214.68,257.67 215.68,261.38 216.8,264C217.92,266.62 219.2,269.97 220.2,271.5C221.2,273.03 221.8,273.2 222.8,273.2C223.8,273.2 224.93,272.5 226.2,271.5C227.47,270.5 228.98,268.48 230.4,267.2C231.82,265.92 233.33,264.5 234.7,263.8C236.07,263.1 237.38,262.75 238.6,263C239.82,263.25 240.82,263.75 242,265.3C243.18,266.85 244.33,269.72 245.7,272.3C247.07,274.88 248.6,278.25 250.2,280.8C251.8,283.35 253.6,286.1 255.3,287.6C257,289.1 258.42,289.37 260.4,289.8C262.38,290.23 265.35,290.2 267.2,290.2C269.05,290.2 270.08,289.72 271.5,289.8C272.92,289.88 274.28,290.92 275.7,290.7C277.12,290.48 278.72,288.78 280,288.5C281.28,288.22 282.42,288.72 283.4,289C284.38,289.28 285.48,290 285.9,290.2" fill="none" stroke="#e8dc00" stroke-width="1.5"/>
<path d="M59.9,290.9C62.25,290.9 71.15,290.67 74,290.9C76.85,291.13 76.08,292.03 77,292.3C77.92,292.57 78.18,292.82 79.5,292.5C80.82,292.18 82.47,291.05 84.9,290.4C87.33,289.75 91.02,288.9 94.1,288.6C97.18,288.3 101.33,288.98 103.4,288.6C105.47,288.22 105.65,287.45 106.5,286.3C107.35,285.15 107.75,284.32 108.5,281.7C109.25,279.08 110.15,275 111,270.6C111.85,266.2 112.73,258.98 113.6,255.3C114.47,251.62 115.35,248.5 116.2,248.5C117.05,248.5 117.85,253.03 118.7,255.3C119.55,257.57 120.3,260.97 121.3,262.1C122.3,263.23 123.57,261.95 124.7,262.1C125.83,262.25 126.97,262.43 128.1,263C129.23,263.57 130.37,264.65 131.5,265.5C132.63,266.35 133.92,267.95 134.9,268.1C135.88,268.25 136.42,268.25 137.4,266.4C138.38,264.55 139.67,259.7 140.8,257C141.93,254.3 143.2,252.03 144.2,250.2C145.2,248.37 145.95,246.57 146.8,246C147.65,245.43 148.32,245.82 149.3,246.8C150.28,247.78 151.42,249.92 152.7,251.9C153.98,253.88 155.33,255.87 157,258.7C158.67,261.53 160.77,267.2 162.7,268.9C164.63,270.6 166.77,269.03 168.6,268.9C170.43,268.77 172.13,268.1 173.7,268.1C175.27,268.1 176.58,268.77 178,268.9C179.42,269.03 180.78,268.62 182.2,268.9C183.62,269.18 185.08,269.6 186.5,270.6C187.92,271.6 189.43,273.9 190.7,274.9C191.97,275.9 192.97,276.6 194.1,276.6C195.23,276.6 196.37,276.47 197.5,274.9C198.63,273.33 199.77,270.18 200.9,267.2C202.03,264.22 203.17,259.97 204.3,257C205.43,254.03 206.72,251.07 207.7,249.4C208.68,247.73 209.23,246.77 210.2,247C211.17,247.23 212.37,248.53 213.5,250.8C214.63,253.07 215.88,257.87 217,260.6C218.12,263.33 219.2,265.55 220.2,267.2C221.2,268.85 222.12,270 223,270.5C223.88,271 224.55,270.57 225.5,270.2C226.45,269.83 227.45,269.4 228.7,268.3C229.95,267.2 231.58,265.2 233,263.6C234.42,262 235.93,259.63 237.2,258.7C238.47,257.77 239.47,257.68 240.6,258C241.73,258.32 242.82,258.78 244,260.6C245.18,262.42 246.38,266.1 247.7,268.9C249.02,271.7 250.35,275.18 251.9,277.4C253.45,279.62 255.3,281 257,282.2C258.7,283.4 260.12,284.12 262.1,284.6C264.08,285.08 266.63,284.93 268.9,285.1C271.17,285.27 273.72,285.47 275.7,285.6C277.68,285.73 279.1,285.57 280.8,285.9C282.5,286.23 285.05,287.32 285.9,287.6" fill="none" stroke="#e00000" stroke-width="1.4" stroke-dasharray="1.9 1.2"/>
<rect x="295.3" y="193.3" width="259.3" height="125.5" fill="#000"/>
<path d="M321.1,196.8V300H546.9" fill="none" stroke="#a8a8a8" stroke-width="1"/>
<text x="316.6" y="199.1" font-size="5.3" text-anchor="end" fill="#ddd">1400</text>
<text x="316.6" y="211.99" font-size="5.3" text-anchor="end" fill="#ddd">1200</text>
<text x="316.6" y="224.88" font-size="5.3" text-anchor="end" fill="#ddd">1000</text>
<text x="316.6" y="237.77" font-size="5.3" text-anchor="end" fill="#ddd">800</text>
<text x="316.6" y="250.66" font-size="5.3" text-anchor="end" fill="#ddd">600</text>
<text x="316.6" y="263.55" font-size="5.3" text-anchor="end" fill="#ddd">400</text>
<text x="316.6" y="276.44" font-size="5.3" text-anchor="end" fill="#ddd">200</text>
<text x="316.6" y="289.33" font-size="5.3" text-anchor="end" fill="#ddd">0</text>
<text x="316.6" y="302.22" font-size="5.3" text-anchor="end" fill="#ddd">-200</text>
<text x="321" y="308.5" font-size="5.3" text-anchor="middle" fill="#ddd">0</text>
<text x="346.1" y="308.5" font-size="5.3" text-anchor="middle" fill="#ddd">5</text>
<text x="371.2" y="308.5" font-size="5.3" text-anchor="middle" fill="#ddd">10</text>
<text x="396.3" y="308.5" font-size="5.3" text-anchor="middle" fill="#ddd">15</text>
<text x="421.4" y="308.5" font-size="5.3" text-anchor="middle" fill="#ddd">20</text>
<text x="446.5" y="308.5" font-size="5.3" text-anchor="middle" fill="#ddd">25</text>
<text x="471.6" y="308.5" font-size="5.3" text-anchor="middle" fill="#ddd">30</text>
<text x="496.7" y="308.5" font-size="5.3" text-anchor="middle" fill="#ddd">35</text>
<text x="521.8" y="308.5" font-size="5.3" text-anchor="middle" fill="#ddd">40</text>
<text x="546.9" y="308.5" font-size="5.3" text-anchor="middle" fill="#ddd">45</text>
<text x="433.5" y="316.6" font-size="4.6" font-weight="bold" text-anchor="middle" fill="#ddd">VOXEL</text>
<text transform="translate(303.2,249) rotate(-90)" font-size="5" font-weight="bold" text-anchor="middle" fill="#ddd" textLength="38" lengthAdjust="spacingAndGlyphs">CT NUMBER (HU)</text>
<text x="413.5" y="205.3" font-size="9.2" font-weight="bold" fill="#fff">L-CT</text>
<text x="519.6" y="205.6" font-size="10" font-weight="bold" fill="#f4f4f4">(e2)</text>
<path d="M325.7,294.2C328.95,294.27 341.1,295.58 345.2,294.6C349.3,293.62 348.88,289.92 350.3,288.3C351.72,286.68 352.28,285.53 353.7,284.9C355.12,284.27 356.82,284.5 358.8,284.5C360.78,284.5 363.9,284.98 365.6,284.9C367.3,284.82 367.87,285.57 369,284C370.13,282.43 371.5,278.02 372.4,275.5C373.3,272.98 373.7,272.82 374.4,268.9C375.1,264.98 375.93,258.32 376.6,252C377.27,245.68 377.82,236.33 378.4,231C378.98,225.67 379.55,222.42 380.1,220C380.65,217.58 381.15,216.55 381.7,216.5C382.25,216.45 382.83,217.33 383.4,219.7C383.97,222.07 384.48,226.88 385.1,230.7C385.72,234.52 386.48,239.35 387.1,242.6C387.72,245.85 387.95,247.52 388.8,250.2C389.65,252.88 391.07,256.72 392.2,258.7C393.33,260.68 394.47,261.53 395.6,262.1C396.73,262.67 398,263.52 399,262.1C400,260.68 400.75,256.72 401.6,253.6C402.45,250.48 403.25,247.5 404.1,243.4C404.95,239.3 405.85,233.3 406.7,229C407.55,224.7 408.22,220.38 409.2,217.6C410.18,214.82 411.47,212.95 412.6,212.3C413.73,211.65 415,212.33 416,213.7C417,215.07 417.78,216.78 418.6,220.5C419.42,224.22 420.2,231.07 420.9,236C421.6,240.93 422.1,246.22 422.8,250.1C423.5,253.98 423.87,258 425.1,259.3C426.33,260.6 428.5,258.57 430.2,257.9C431.9,257.23 433.6,256.02 435.3,255.3C437,254.58 438.83,253.6 440.4,253.6C441.97,253.6 443.42,254.3 444.7,255.3C445.98,256.3 446.83,257.9 448.1,259.6C449.37,261.3 450.88,263.8 452.3,265.5C453.72,267.2 455.32,269 456.6,269.8C457.88,270.6 459.02,270.87 460,270.3C460.98,269.73 461.65,268.9 462.5,266.4C463.35,263.9 464.4,259.2 465.1,255.3C465.8,251.4 466.13,247.55 466.7,243C467.27,238.45 467.78,231.95 468.5,228C469.22,224.05 470.07,221.37 471,219.3C471.93,217.23 473.1,215.97 474.1,215.6C475.1,215.23 476.25,216.28 477,217.1C477.75,217.92 477.8,218.52 478.6,220.5C479.4,222.48 480.7,226.3 481.8,229C482.9,231.7 484.07,234.77 485.2,236.7C486.33,238.63 487.47,240.32 488.6,240.6C489.73,240.88 490.87,240.05 492,238.4C493.13,236.75 494.27,232.83 495.4,230.7C496.53,228.57 497.72,226.67 498.8,225.6C499.88,224.53 500.9,224.02 501.9,224.3C502.9,224.58 503.75,225.52 504.8,227.3C505.85,229.08 507.22,232.45 508.2,235C509.18,237.55 509.93,240.3 510.7,242.6C511.47,244.9 511.8,246.12 512.8,248.8C513.8,251.48 515.35,255.35 516.7,258.7C518.05,262.05 519.48,265.92 520.9,268.9C522.32,271.88 523.78,274.47 525.2,276.6C526.62,278.73 528.3,280.47 529.4,281.7C530.5,282.93 530.62,283.47 531.8,284C532.98,284.53 535.02,285.23 536.5,284.9C537.98,284.57 539.43,282.65 540.7,282C541.97,281.35 543.1,281 544.1,281C545.1,281 546.27,281.83 546.7,282" fill="none" stroke="#8ea47a" stroke-width="1.2"/>
<path d="M325.7,294.2C328.95,294.27 341.23,295.45 345.2,294.6C349.17,293.75 348.22,290.52 349.5,289.1C350.78,287.68 351.77,286.8 352.9,286.1C354.03,285.4 354.75,285.1 356.3,284.9C357.85,284.7 360.37,285.05 362.2,284.9C364.03,284.75 365.88,284.9 367.3,284C368.72,283.1 369.7,282.33 370.7,279.5C371.7,276.67 372.55,271.03 373.3,267C374.05,262.97 374.62,258.97 375.2,255.3C375.78,251.63 376.13,249.22 376.8,245C377.47,240.78 378.47,233.47 379.2,230C379.93,226.53 380.57,224.62 381.2,224.2C381.83,223.78 382.43,225.37 383,227.5C383.57,229.63 384.05,233.42 384.6,237C385.15,240.58 385.73,245.83 386.3,249C386.87,252.17 387.3,253.95 388,256C388.7,258.05 389.37,260.42 390.5,261.3C391.63,262.18 393.67,261.5 394.8,261.3C395.93,261.1 396.32,260.4 397.3,260.1C398.28,259.8 399.67,261.02 400.7,259.5C401.73,257.98 402.68,254.08 403.5,251C404.32,247.92 404.82,244.67 405.6,241C406.38,237.33 407.32,232.5 408.2,229C409.08,225.5 409.93,222.08 410.9,220C411.87,217.92 413,216.55 414,216.5C415,216.45 416.03,217.28 416.9,219.7C417.77,222.12 418.52,226.62 419.2,231C419.88,235.38 420.37,242 421,246C421.63,250 422.32,252.7 423,255C423.68,257.3 423.75,259.18 425.1,259.8C426.45,260.42 429.12,258.6 431.1,258.7C433.08,258.8 435.02,260.17 437,260.4C438.98,260.63 441.43,260.38 443,260.1C444.57,259.82 445.27,258.7 446.4,258.7C447.53,258.7 448.53,259.25 449.8,260.1C451.07,260.95 452.67,262.47 454,263.8C455.33,265.13 456.67,267.53 457.8,268.1C458.93,268.67 459.78,268.77 460.8,267.2C461.82,265.63 463.05,262.1 463.9,258.7C464.75,255.3 465.17,250.33 465.9,246.8C466.63,243.27 467.52,239.97 468.3,237.5C469.08,235.03 469.72,233.5 470.6,232C471.48,230.5 472.53,229.08 473.6,228.5C474.67,227.92 475.92,227.28 477,228.5C478.08,229.72 479.15,232.88 480.1,235.8C481.05,238.72 481.85,243.03 482.7,246C483.55,248.97 484.35,251.2 485.2,253.6C486.05,256 486.95,258.98 487.8,260.4C488.65,261.82 489.45,262.23 490.3,262.1C491.15,261.97 492.05,261.3 492.9,259.6C493.75,257.9 494.42,254.17 495.4,251.9C496.38,249.63 497.67,247.18 498.8,246C499.93,244.82 501.07,244.67 502.2,244.8C503.33,244.93 504.47,245.05 505.6,246.8C506.73,248.55 507.87,252.47 509,255.3C510.13,258.13 511.12,260.97 512.4,263.8C513.68,266.63 515.28,269.88 516.7,272.3C518.12,274.72 519.35,276.6 520.9,278.3C522.45,280 524.4,281.55 526,282.5C527.6,283.45 528.9,283.67 530.5,284C532.1,284.33 533.9,284.35 535.6,284.5C537.3,284.65 538.85,284.83 540.7,284.9C542.55,284.97 545.7,284.9 546.7,284.9" fill="none" stroke="#27488c" stroke-width="1.3"/>
<path d="M325.7,294.2C328.95,294.27 341.52,294.93 345.2,294.6C348.88,294.27 346.8,292.97 347.8,292.2C348.8,291.43 350.07,290.23 351.2,290C352.33,289.77 353.33,290.43 354.6,290.8C355.87,291.17 357.38,292.05 358.8,292.2C360.22,292.35 361.68,292.22 363.1,291.7C364.52,291.18 366.03,289.95 367.3,289.1C368.57,288.25 369.57,288.02 370.7,286.6C371.83,285.18 373.07,284.12 374.1,280.6C375.13,277.08 376,270.85 376.9,265.5C377.8,260.15 378.73,252.18 379.5,248.5C380.27,244.82 380.85,243.68 381.5,243.4C382.15,243.12 382.75,244.82 383.4,246.8C384.05,248.78 384.5,252.47 385.4,255.3C386.3,258.13 387.67,261.95 388.8,263.8C389.93,265.65 391.07,266.25 392.2,266.4C393.33,266.55 394.6,264.85 395.6,264.7C396.6,264.55 397.35,265.02 398.2,265.5C399.05,265.98 399.85,267.88 400.7,267.6C401.55,267.32 402.3,266.27 403.3,263.8C404.3,261.33 405.57,256.2 406.7,252.8C407.83,249.4 408.97,245.45 410.1,243.4C411.23,241.35 412.3,240.48 413.5,240.5C414.7,240.52 416.13,242 417.3,243.5C418.47,245 419.45,247.33 420.5,249.5C421.55,251.67 422.4,254.68 423.6,256.5C424.8,258.32 426.17,259.88 427.7,260.4C429.23,260.92 430.97,260.3 432.8,259.6C434.63,258.9 436.72,257.25 438.7,256.2C440.68,255.15 442.85,253.45 444.7,253.3C446.55,253.15 448.25,254.12 449.8,255.3C451.35,256.48 452.73,258.7 454,260.4C455.27,262.1 456.27,264.93 457.4,265.5C458.53,266.07 459.67,265.22 460.8,263.8C461.93,262.38 463.07,259.27 464.2,257C465.33,254.73 466.47,252.1 467.6,250.2C468.73,248.3 470.12,246.43 471,245.6C471.88,244.77 472.27,245 472.9,245.2C473.53,245.4 473.98,245.5 474.8,246.8C475.62,248.1 476.63,250.73 477.8,253C478.97,255.27 480.57,258.45 481.8,260.4C483.03,262.35 483.92,263.7 485.2,264.7C486.48,265.7 488.22,266.55 489.5,266.4C490.78,266.25 491.63,265.22 492.9,263.8C494.17,262.38 495.68,259.73 497.1,257.9C498.52,256.07 500.12,253.8 501.4,252.8C502.68,251.8 503.67,251.37 504.8,251.9C505.93,252.43 507.07,254.18 508.2,256C509.33,257.82 510.33,260.5 511.6,262.8C512.87,265.1 514.38,267.5 515.8,269.8C517.22,272.1 518.53,274.62 520.1,276.6C521.67,278.58 523.65,280.43 525.2,281.7C526.75,282.97 528.23,283.67 529.4,284.2C530.57,284.73 531.02,284.65 532.2,284.9C533.38,285.15 535.22,285.13 536.5,285.7C537.78,286.27 538.77,287.58 539.9,288.3C541.03,289.02 542.17,289.8 543.3,290C544.43,290.2 546.13,289.58 546.7,289.5" fill="none" stroke="#e8dc00" stroke-width="1.5"/>
<path d="M325.7,290.8C326.4,290.8 328.48,291 329.9,290.8C331.32,290.6 332.78,289.6 334.2,289.6C335.62,289.6 336.85,290.53 338.4,290.8C339.95,291.07 341.8,291.42 343.5,291.2C345.2,290.98 346.75,289.9 348.6,289.5C350.45,289.1 352.62,288.92 354.6,288.8C356.58,288.68 358.52,288.75 360.5,288.8C362.48,288.85 364.93,289.18 366.5,289.1C368.07,289.02 368.92,289.28 369.9,288.3C370.88,287.32 371.42,285.62 372.4,283.2C373.38,280.78 374.9,277.6 375.8,273.8C376.7,270 377.05,264.9 377.8,260.4C378.55,255.9 379.6,249.48 380.3,246.8C381,244.12 381.43,244.02 382,244.3C382.57,244.58 382.85,245.95 383.7,248.5C384.55,251.05 385.97,257.33 387.1,259.6C388.23,261.87 389.22,261.82 390.5,262.1C391.78,262.38 393.52,260.87 394.8,261.3C396.08,261.73 397.22,263.28 398.2,264.7C399.18,266.12 399.85,269.38 400.7,269.8C401.55,270.22 402.3,269.33 403.3,267.2C404.3,265.07 405.57,260.4 406.7,257C407.83,253.6 409.12,249.75 410.1,246.8C411.08,243.85 411.7,240.3 412.6,239.3C413.5,238.3 414.52,239.77 415.5,240.8C416.48,241.83 417.67,244.13 418.5,245.5C419.33,246.87 419.68,247.22 420.5,249C421.32,250.78 422.2,254.02 423.4,256.2C424.6,258.38 426.13,260.78 427.7,262.1C429.27,263.42 430.97,263.95 432.8,264.1C434.63,264.25 436.87,263.62 438.7,263C440.53,262.38 442.23,260.97 443.8,260.4C445.37,259.83 446.82,259.73 448.1,259.6C449.38,259.47 450.37,259.18 451.5,259.6C452.63,260.02 453.77,261.12 454.9,262.1C456.03,263.08 457.17,265.78 458.3,265.5C459.43,265.22 460.57,262.67 461.7,260.4C462.83,258.13 463.97,254.58 465.1,251.9C466.23,249.22 467.37,246.05 468.5,244.3C469.63,242.55 470.77,241.27 471.9,241.4C473.03,241.53 474.17,243.35 475.3,245.1C476.43,246.85 477.5,249.33 478.7,251.9C479.9,254.47 480.85,258.08 482.5,260.5C484.15,262.92 486.73,266.13 488.6,266.4C490.47,266.67 492.13,263.8 493.7,262.1C495.27,260.4 496.72,258.13 498,256.2C499.28,254.27 500.42,251.35 501.4,250.5C502.38,249.65 503.05,250.02 503.9,251.1C504.75,252.18 505.65,254.6 506.5,257C507.35,259.4 508.15,262.52 509,265.5C509.85,268.48 510.6,272.07 511.6,274.9C512.6,277.73 513.73,280.72 515,282.5C516.27,284.28 517.65,284.97 519.2,285.6C520.75,286.23 522.6,286.23 524.3,286.3C526,286.37 527.65,286.15 529.4,286C531.15,285.85 532.92,285.3 534.8,285.4C536.68,285.5 538.72,286.32 540.7,286.6C542.68,286.88 545.7,287.02 546.7,287.1" fill="none" stroke="#e00000" stroke-width="1.4" stroke-dasharray="1.9 1.2"/>
</svg>
</body></html>
